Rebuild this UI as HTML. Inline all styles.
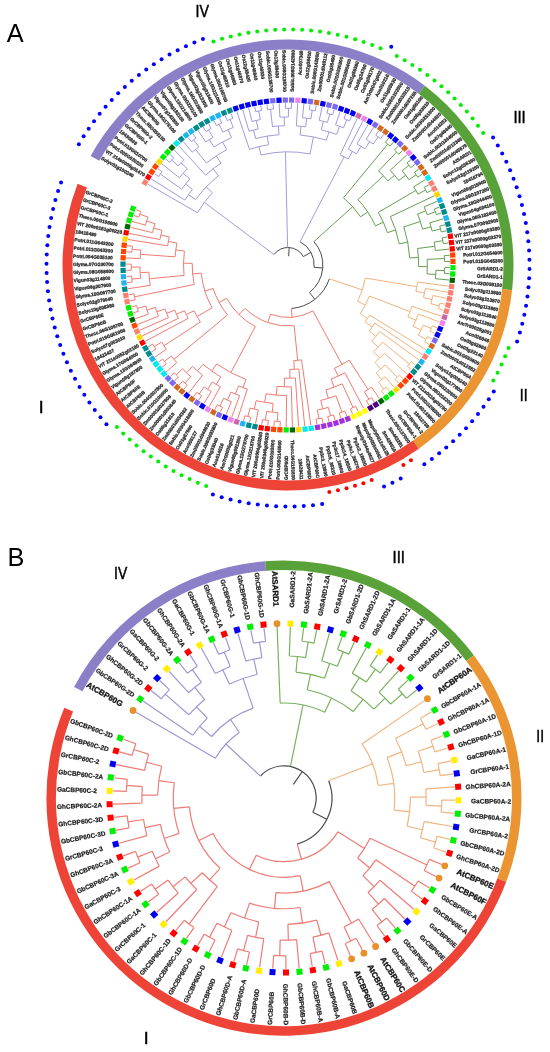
<!DOCTYPE html>
<html><head><meta charset="utf-8"><title>Phylogenetic trees</title>
<style>
html,body{margin:0;padding:0;background:#fff;}
body{width:550px;height:1052px;overflow:hidden;}
svg{display:block;font-family:"Liberation Sans",Arial,sans-serif;}
text{fill:#1a1a1a;}
.la{font-size:4.75px;font-weight:bold;fill:#222;stroke:#333;stroke-width:0.3px;dominant-baseline:central;}
.lb{font-size:6.5px;font-weight:bold;fill:#1a1a1a;stroke:#1a1a1a;stroke-width:0.2px;dominant-baseline:central;}
.lo{font-size:8px;font-weight:bold;fill:#111;stroke:#111;stroke-width:0.3px;dominant-baseline:central;}
.num{font-size:17.4px;fill:#000;stroke:#000;stroke-width:0.5px;}
.big{font-size:25.3px;fill:#000;}
</style></head><body>
<svg width="550" height="1052" viewBox="0 0 550 1052">
<rect width="550" height="1052" fill="#fff"/>
<path d="M90.59 156 A225.5 225.5 0 0 1 424.79 85.73 L418.72 93.68 A215.5 215.5 0 0 0 99.35 160.83 Z" fill="#8b7fc8"/>
<path d="M424.79 85.73 A225.5 225.5 0 0 1 512.09 290.16 L502.15 289.04 A215.5 215.5 0 0 0 418.72 93.68 Z" fill="#59a23a"/>
<path d="M512.09 290.16 A225.5 225.5 0 0 1 418.85 448.65 L413.05 440.51 A215.5 215.5 0 0 0 502.15 289.04 Z" fill="#ea9532"/>
<path d="M418.85 448.65 A225.5 225.5 0 0 1 77.61 183.84 L86.94 187.44 A215.5 215.5 0 0 0 413.05 440.51 Z" fill="#ee4438"/>
<path d="M273.99 254.51A17.5 17.5 0 0 1 303.34 256.57M303.34 256.57L310.96 252.38M300.07 241.75A26.2 26.2 0 0 1 314.1 267.27M314.1 267.27L322.77 268.03M313.92 241.63A34.9 34.9 0 0 1 309.49 292.5M309.49 292.5L314.85 299.35M329.35 278.83A43.6 43.6 0 0 1 291.43 308.46M288.62 256.22L289.23 247.54" fill="none" stroke="#4a4a4a" stroke-width="1.0"/>
<path d="M273.99 254.51L204.36 202.35M197.5 212.75A104.5 104.5 0 0 1 212.41 192.84M197.5 212.75L147.7 184M212.41 192.84L206.12 186.83M195.57 199.65A113.2 113.2 0 0 1 218.43 175.7M195.57 199.65L188.47 194.62M184.83 200.06A121.9 121.9 0 0 1 192.39 189.38M184.83 200.06L150.9 178.7M192.39 189.38L185.56 183.99M181.64 189.22A130.6 130.6 0 0 1 189.75 178.96M181.64 189.22L160.38 174.07M158.67 176.53A156.7 156.7 0 0 1 162.14 171.65M158.67 176.53L154.29 173.53M162.14 171.65L157.88 168.5M189.75 178.96L183.21 173.22M179.36 177.81A139.3 139.3 0 0 1 187.24 168.81M179.36 177.81L161.66 163.6M187.24 168.81L180.95 162.8M178.07 165.91A148 148 0 0 1 183.92 159.78M178.07 165.91L171.61 160.08M169.62 162.32A156.7 156.7 0 0 1 173.63 157.88M169.62 162.32L165.62 158.85M173.63 157.88L169.76 154.26M183.92 159.78L174.08 149.83M218.43 175.7L213.09 168.84M205.65 175.13A121.9 121.9 0 0 1 221 163.16M205.65 175.13L178.55 145.56M221 163.16L216.22 155.89M206.39 163.04A130.6 130.6 0 0 1 226.67 149.7M206.39 163.04L195.52 149.45M192.25 152.15A148 148 0 0 1 198.87 146.85M192.25 152.15L183.19 141.47M198.87 146.85L193.63 139.91M191.26 141.73A156.7 156.7 0 0 1 196.03 138.13M191.26 141.73L187.98 137.56M196.03 138.13L192.92 133.84M226.67 149.7L222.59 142.01M213.96 147.01A139.3 139.3 0 0 1 231.55 137.65M213.96 147.01L209.33 139.64M205.78 141.94A148 148 0 0 1 212.95 137.44M205.78 141.94L198 130.3M212.95 137.44L208.54 129.94M205.98 131.48A156.7 156.7 0 0 1 211.13 128.45M205.98 131.48L203.2 126.96M211.13 128.45L208.54 123.83M231.55 137.65L228.02 129.7M222.9 132.08A148 148 0 0 1 233.23 127.51M222.9 132.08L219.08 124.27M216.4 125.61A156.7 156.7 0 0 1 221.78 122.98M216.4 125.61L213.98 120.9M221.78 122.98L219.54 118.18M233.23 127.51L230.01 119.42M227.24 120.56A156.7 156.7 0 0 1 232.8 118.34M227.24 120.56L225.19 115.67M232.8 118.34L230.94 113.38M287.61 247.5L285.47 151.83M261.02 155.06A113.2 113.2 0 0 1 310.05 153.97M261.02 155.06L258.95 146.61M249.45 149.36A121.9 121.9 0 0 1 268.64 144.65M249.45 149.36L236.76 111.32M268.64 144.65L267.25 136.06M255.66 138.47A130.6 130.6 0 0 1 279.01 134.71M255.66 138.47L253.51 130.04M249.02 131.27A139.3 139.3 0 0 1 258.04 128.96M249.02 131.27L242.67 109.47M258.04 128.96L256.16 120.46M252.04 121.44A148 148 0 0 1 260.32 119.61M252.04 121.44L248.64 107.85M260.32 119.61L258.69 111.07M255.75 111.65A156.7 156.7 0 0 1 261.63 110.53M255.75 111.65L254.66 106.47M261.63 110.53L260.74 105.31M279.01 134.71L278.42 126.03M272.46 126.57A139.3 139.3 0 0 1 284.39 125.75M272.46 126.57L270.52 109.28M267.55 109.64A156.7 156.7 0 0 1 273.49 108.97M267.55 109.64L266.85 104.39M273.49 108.97L273 103.7M284.39 125.75L284.17 117.05M279.93 117.22A148 148 0 0 1 288.4 117M279.93 117.22L279.17 103.24M288.4 117L288.43 108.3M285.44 108.32A156.7 156.7 0 0 1 291.42 108.34M285.44 108.32L285.35 103.02M291.42 108.34L291.53 103.04M310.05 153.97L313.44 136.9M300.18 134.97A130.6 130.6 0 0 1 326.42 140.18M300.18 134.97L300.99 126.31M296.35 125.95A139.3 139.3 0 0 1 305.62 126.82M296.35 125.95L297.71 103.29M305.62 126.82L306.72 118.19M302.51 117.71A148 148 0 0 1 310.91 118.78M302.51 117.71L303.88 103.78M310.91 118.78L312.26 110.19M309.3 109.75A156.7 156.7 0 0 1 315.21 110.68M309.3 109.75L310.02 104.5M315.21 110.68L316.13 105.46M326.42 140.18L328.98 131.86M321.29 129.74A139.3 139.3 0 0 1 336.53 134.43M321.29 129.74L323.37 121.29M319.24 120.34A148 148 0 0 1 327.47 122.36M319.24 120.34L322.2 106.65M327.47 122.36L329.79 113.98M326.9 113.21A156.7 156.7 0 0 1 332.67 114.8M326.9 113.21L328.22 108.07M332.67 114.8L334.18 109.72M336.53 134.43L339.57 126.27M335.57 124.85A148 148 0 0 1 343.52 127.81M335.57 124.85L340.07 111.6M343.52 127.81L346.78 119.74M344 118.65A156.7 156.7 0 0 1 349.54 120.89M344 118.65L345.89 113.7M349.54 120.89L351.62 116.02M300.07 241.75L344.16 156.81M340.12 154.8A121.9 121.9 0 0 1 348.12 158.96M340.12 154.8L357.26 118.55M348.12 158.96L352.41 151.39M348.3 149.16A130.6 130.6 0 0 1 356.44 153.77M348.3 149.16L362.8 121.3M356.44 153.77L360.99 146.36M356.99 143.98A139.3 139.3 0 0 1 364.92 148.86M356.99 143.98L368.23 124.26M364.92 148.86L369.72 141.61M366.15 139.32A148 148 0 0 1 373.22 144M366.15 139.32L373.55 127.43M373.22 144L378.23 136.88M375.77 135.19A156.7 156.7 0 0 1 380.66 138.63M375.77 135.19L378.74 130.79M380.66 138.63L383.79 134.36" fill="none" stroke="#a09cda" stroke-width="1.0"/>
<path d="M313.92 241.63L352.69 206.67M343.44 197.82A87.1 87.1 0 0 1 360.54 216.79M343.44 197.82L387.74 144.14M385.41 142.26A156.7 156.7 0 0 1 390.03 146.07M385.41 142.26L388.71 138.11M390.03 146.07L393.48 142.04M360.54 216.79L367.78 211.97M357.97 199.56A95.8 95.8 0 0 1 375.43 225.83M357.97 199.56L383.38 175.79M378.57 170.91A130.6 130.6 0 0 1 387.93 180.92M378.57 170.91L396.67 152.1M394.49 150.05A156.7 156.7 0 0 1 398.8 154.2M394.49 150.05L398.1 146.16M398.8 154.2L402.55 150.45M387.93 180.92L394.59 175.31M390.19 170.33A139.3 139.3 0 0 1 398.74 180.5M390.19 170.33L406.84 154.9M398.74 180.5L405.66 175.22M402.15 170.8A148 148 0 0 1 409 179.78M402.15 170.8L408.86 165.26M406.93 162.97A156.7 156.7 0 0 1 410.74 167.59M406.93 162.97L410.96 159.52M410.74 167.59L414.89 164.29M409 179.78L416.12 174.77M414.37 172.34A156.7 156.7 0 0 1 417.81 177.23M414.37 172.34L418.64 169.21M417.81 177.23L422.21 174.26M375.43 225.83L383.37 222.27M378.29 212.38A104.5 104.5 0 0 1 387.37 232.65M378.29 212.38L415.87 190.48M413.68 186.85A148 148 0 0 1 417.95 194.17M413.68 186.85L425.57 179.45M417.95 194.17L425.59 190M424.13 187.39A156.7 156.7 0 0 1 426.99 192.64M424.13 187.39L428.74 184.77M426.99 192.64L431.7 190.2M387.37 232.65L395.64 229.96M390.33 216.6A113.2 113.2 0 0 1 399.21 243.88M390.33 216.6L434.45 195.74M399.21 243.88L407.76 242.26M403.8 226.92A121.9 121.9 0 0 1 409.7 257.98M403.8 226.92L420.33 221.48M417.62 213.98A139.3 139.3 0 0 1 422.6 229.13M417.62 213.98L425.72 210.8M424.11 206.87A148 148 0 0 1 427.21 214.76M424.11 206.87L436.98 201.38M427.21 214.76L435.4 211.81M434.35 209A156.7 156.7 0 0 1 436.38 214.63M434.35 209L439.3 207.11M436.38 214.63L441.4 212.93M422.6 229.13L431.01 226.89M429.86 222.81A148 148 0 0 1 432.04 231M429.86 222.81L443.28 218.82M432.04 231L440.51 229M439.79 226.1A156.7 156.7 0 0 1 441.17 231.92M439.79 226.1L444.93 224.78M441.17 231.92L446.35 230.8M409.7 257.98L418.38 257.48M417.55 248.48A130.6 130.6 0 0 1 418.59 266.51M417.55 248.48L434.81 246.28M434.22 242.09A148 148 0 0 1 435.29 250.49M434.22 242.09L442.81 240.74M442.32 237.79A156.7 156.7 0 0 1 443.25 243.7M442.32 237.79L447.54 236.87M443.25 243.7L448.5 242.98M435.29 250.49L449.22 249.12M418.59 266.51L427.29 266.61M427.18 259.3A139.3 139.3 0 0 1 427.01 273.92M427.18 259.3L444.57 258.59M444.42 255.6A156.7 156.7 0 0 1 444.66 261.58M444.42 255.6L449.71 255.29M444.66 261.58L449.96 261.47M427.01 273.92L435.7 274.48M435.91 270.25A148 148 0 0 1 435.36 278.7M435.91 270.25L444.6 270.55M444.68 267.56A156.7 156.7 0 0 1 444.47 273.54M444.68 267.56L449.98 267.65M444.47 273.54L449.76 273.83M435.36 278.7L449.3 280" fill="none" stroke="#669f50" stroke-width="1.0"/>
<path d="M329.35 278.83L362.35 289.88M365.31 278.01A78.4 78.4 0 0 1 357.57 301.14M365.31 278.01L416.79 286.67M417.48 282.05A130.6 130.6 0 0 1 415.93 291.26M417.48 282.05L448.61 286.15M415.93 291.26L424.45 293.01M425.31 288.44A139.3 139.3 0 0 1 423.44 297.56M425.31 288.44L447.69 292.26M423.44 297.56L431.9 299.59M432.83 295.46A148 148 0 0 1 430.85 303.69M432.83 295.46L446.53 298.34M430.85 303.69L439.25 305.97M440 303.07A156.7 156.7 0 0 1 438.44 308.85M440 303.07L445.15 304.36M438.44 308.85L443.53 310.33M357.57 301.14L365.3 305.15M369.37 296.07A87.1 87.1 0 0 1 360.21 313.7M369.37 296.07L410.01 311.59M411.9 306.3A130.6 130.6 0 0 1 407.9 316.78M411.9 306.3L441.68 316.24M407.9 316.78L415.88 320.23M418.37 314.07A139.3 139.3 0 0 1 413.1 326.27M418.37 314.07L439.62 322.06M413.1 326.27L420.92 330.1M423.3 324.98A148 148 0 0 1 418.33 335.12M423.3 324.98L431.26 328.5M432.44 325.76A156.7 156.7 0 0 1 430.02 331.22M432.44 325.76L437.33 327.81M430.02 331.22L434.82 333.46M418.33 335.12L426 339.24M427.39 336.6A156.7 156.7 0 0 1 424.55 341.87M427.39 336.6L432.1 339.02M424.55 341.87L429.17 344.46M360.21 313.7L367.42 318.57M369.63 315.14A95.8 95.8 0 0 1 365.08 321.89M369.63 315.14L426.04 349.8M365.08 321.89L372.08 327.06M374.89 323.06A104.5 104.5 0 0 1 369.08 330.93M374.89 323.06L422.7 355M369.08 330.93L375.83 336.42M379.65 331.44A113.2 113.2 0 0 1 371.73 341.18M379.65 331.44L419.16 360.08M371.73 341.18L378.17 347.03M382.44 342.08A121.9 121.9 0 0 1 373.64 351.75M382.44 342.08L409.4 364.08M411.27 361.74A156.7 156.7 0 0 1 407.49 366.38M411.27 361.74L415.44 365.02M407.49 366.38L411.53 369.81M373.64 351.75L379.75 357.94M384.29 353.23A130.6 130.6 0 0 1 374.98 362.42M384.29 353.23L407.44 374.45M374.98 362.42L380.77 368.91M385.15 364.83A139.3 139.3 0 0 1 376.22 372.8M385.15 364.83L397.28 377.3M399.41 375.2A156.7 156.7 0 0 1 395.12 379.37M399.41 375.2L403.17 378.92M395.12 379.37L398.74 383.24M376.22 372.8L381.73 379.53M384.97 376.8A148 148 0 0 1 378.42 382.17M384.97 376.8L394.15 387.38M378.42 382.17L383.73 389.06M386.08 387.21A156.7 156.7 0 0 1 381.35 390.86M386.08 387.21L389.4 391.34M381.35 390.86L384.5 395.12" fill="none" stroke="#f3b37c" stroke-width="1.0"/>
<path d="M291.43 308.46L292.12 317.14M312.95 310.96A52.3 52.3 0 0 1 270.57 314.31M312.95 310.96L342.01 364.49M349.21 360.22A113.2 113.2 0 0 1 334.51 368.21M349.21 360.22L368.03 389.5M371.56 387.15A148 148 0 0 1 364.43 391.74M371.56 387.15L379.47 398.71M364.43 391.74L368.93 399.19M371.47 397.62A156.7 156.7 0 0 1 366.35 400.71M371.47 397.62L374.3 402.1M366.35 400.71L369 405.3M334.51 368.21L338.08 376.14M344.88 372.82A121.9 121.9 0 0 1 331.09 379.03M344.88 372.82L363.59 408.29M331.09 379.03L334.17 387.17M342.22 383.81A130.6 130.6 0 0 1 325.91 389.98M342.22 383.81L353.06 407.56M355.77 406.29A156.7 156.7 0 0 1 350.33 408.77M355.77 406.29L358.06 411.07M350.33 408.77L352.44 413.63M325.91 389.98L328.44 398.3M336 395.77A139.3 139.3 0 0 1 320.74 400.4M336 395.77L342 412.1M344.79 411.05A156.7 156.7 0 0 1 339.18 413.11M344.79 411.05L346.71 415.99M339.18 413.11L340.91 418.12M320.74 400.4L322.79 408.85M328.25 407.42A148 148 0 0 1 317.27 410.08M328.25 407.42L330.62 415.79M333.49 414.95A156.7 156.7 0 0 1 327.73 416.58M333.49 414.95L335.03 420.02M327.73 416.58L329.07 421.71M317.27 410.08L318.99 418.61M321.92 417.99A156.7 156.7 0 0 1 316.05 419.17M321.92 417.99L323.06 423.16M316.05 419.17L317 424.38M270.57 314.31L267.67 322.51M294.16 325.69A61 61 0 0 1 245.08 308.34M294.16 325.69L297.67 360.31M301.54 359.84A95.8 95.8 0 0 1 293.78 360.63M301.54 359.84L310.9 425.37M293.78 360.63L294.31 369.31M298.81 368.94A104.5 104.5 0 0 1 289.79 369.48M298.81 368.94L304.76 426.13M289.79 369.48L289.94 378.18M295.4 377.96A113.2 113.2 0 0 1 284.47 378.14M295.4 377.96L298.6 426.65M284.47 378.14L284.2 386.84M291.32 386.85A121.9 121.9 0 0 1 277.09 386.41M291.32 386.85L292.42 426.94M277.09 386.41L276.31 395.08M286.58 395.59A130.6 130.6 0 0 1 266.11 393.75M286.58 395.59L286.23 426.99M266.11 393.75L264.65 402.33M273.21 403.51A139.3 139.3 0 0 1 256.18 400.62M273.21 403.51L272.29 412.16M277.92 412.66A148 148 0 0 1 266.68 411.46M277.92 412.66L277.32 421.34M280.31 421.51A156.7 156.7 0 0 1 274.34 421.1M280.31 421.51L280.05 426.8M274.34 421.1L273.88 426.38M266.68 411.46L265.43 420.07M268.39 420.47A156.7 156.7 0 0 1 262.47 419.61M268.39 420.47L267.73 425.73M262.47 419.61L261.61 424.84M256.18 400.62L254.2 409.09M258.34 410A148 148 0 0 1 250.08 408.06M258.34 410L255.53 423.71M250.08 408.06L247.86 416.47M250.75 417.21A156.7 156.7 0 0 1 244.97 415.68M250.75 417.21L249.49 422.36M244.97 415.68L243.52 420.77M245.08 308.34L238.95 314.52M255.31 326.56A69.7 69.7 0 0 1 226.76 298.28M255.31 326.56L230.83 372.66M245.96 379.42A121.9 121.9 0 0 1 216.76 363.92M245.96 379.42L242.96 387.59M247.37 389.12A130.6 130.6 0 0 1 238.6 385.9M247.37 389.12L237.6 418.96M238.6 385.9L235.31 393.95M239.64 395.64A139.3 139.3 0 0 1 231.03 392.12M239.64 395.64L231.76 416.93M231.03 392.12L227.47 400.06M231.36 401.73A148 148 0 0 1 223.63 398.27M231.36 401.73L226.01 414.67M223.63 398.27L219.85 406.1M222.55 407.38A156.7 156.7 0 0 1 217.16 404.78M222.55 407.38L220.34 412.19M217.16 404.78L214.77 409.5M216.76 363.92L211.68 370.98M220.78 376.97A130.6 130.6 0 0 1 203.1 364.24M220.78 376.97L216.3 384.43M220.33 386.76A139.3 139.3 0 0 1 212.35 381.97M220.33 386.76L209.31 406.6M212.35 381.97L207.63 389.28M211.22 391.53A148 148 0 0 1 204.11 386.92M211.22 391.53L203.96 403.5M204.11 386.92L199.17 394.09M201.65 395.76A156.7 156.7 0 0 1 196.73 392.37M201.65 395.76L198.73 400.19M196.73 392.37L193.64 396.68M203.1 364.24L197.45 370.85M202.6 375.05A139.3 139.3 0 0 1 192.5 366.41M202.6 375.05L188.68 392.98M192.5 366.41L186.53 372.74M190.72 376.54A148 148 0 0 1 182.5 368.79M190.72 376.54L185 383.09M187.28 385.04A156.7 156.7 0 0 1 182.77 381.11M187.28 385.04L183.87 389.1M182.77 381.11L179.21 385.03M182.5 368.79L176.29 374.89M178.41 377.01A156.7 156.7 0 0 1 174.22 372.74M178.41 377.01L174.71 380.79M174.22 372.74L170.37 376.39M226.76 298.28L219.12 302.44M227.6 314.98A78.4 78.4 0 0 1 213.2 288.5M227.6 314.98L173.98 359.36M176.73 362.58A148 148 0 0 1 171.32 356.05M176.73 362.58L166.2 371.81M171.32 356.05L164.47 361.41M166.33 363.75A156.7 156.7 0 0 1 162.65 359.03M166.33 363.75L162.21 367.09M162.65 359.03L158.41 362.21M213.2 288.5L204.9 291.1M212.2 307.9A87.1 87.1 0 0 1 201.28 273.15M212.2 307.9L197.06 316.47M200.41 321.99A104.5 104.5 0 0 1 194.05 310.76M200.41 321.99L163.94 345.71M166.3 349.23A148 148 0 0 1 161.68 342.12M166.3 349.23L154.79 357.19M161.68 342.12L154.26 346.66M155.84 349.19A156.7 156.7 0 0 1 152.72 344.09M155.84 349.19L151.37 352.04M152.72 344.09L148.15 346.76M194.05 310.76L186.23 314.57M188.17 318.36A113.2 113.2 0 0 1 184.44 310.71M188.17 318.36L145.13 341.37M184.44 310.71L176.48 314.23M178.38 318.32A121.9 121.9 0 0 1 174.74 310.07M178.38 318.32L142.32 335.86M174.74 310.07L166.65 313.29M168.46 317.6A130.6 130.6 0 0 1 165 308.91M168.46 317.6L139.72 330.24M165 308.91L156.81 311.84M158.45 316.19A139.3 139.3 0 0 1 155.32 307.43M158.45 316.19L137.34 324.54M155.32 307.43L147.03 310.08M148.38 314.1A148 148 0 0 1 145.8 306.03M148.38 314.1L135.17 318.74M145.8 306.03L137.44 308.44M138.3 311.3A156.7 156.7 0 0 1 136.64 305.56M138.3 311.3L133.23 312.87M136.64 305.56L131.52 306.93M201.28 273.15L192.62 273.97M194.2 284.46A95.8 95.8 0 0 1 192.21 263.36M194.2 284.46L134.57 296.83M135.2 299.75A156.7 156.7 0 0 1 133.99 293.89M135.2 299.75L130.03 300.93M133.99 293.89L128.78 294.87M192.21 263.36L183.52 263.21M184.02 275.38A104.5 104.5 0 0 1 184.43 251.07M184.02 275.38L149.39 278.84M150.21 285.44A139.3 139.3 0 0 1 148.89 272.21M150.21 285.44L127.75 288.77M148.89 272.21L140.2 272.67M140.6 278.3A148 148 0 0 1 140.01 267.02M140.6 278.3L131.93 279.08M132.23 282.06A156.7 156.7 0 0 1 131.69 276.1M132.23 282.06L126.96 282.64M131.69 276.1L126.41 276.48M140.01 267.02L131.31 267.14M131.38 270.13A156.7 156.7 0 0 1 131.3 264.15M131.38 270.13L126.09 270.3M131.3 264.15L126 264.12M184.43 251.07L175.81 249.91M175.1 256.83A113.2 113.2 0 0 1 176.95 243.05M175.1 256.83L140.39 254.31M140.14 258.54A148 148 0 0 1 140.75 250.09M140.14 258.54L126.15 257.93M140.75 250.09L132.1 249.22M131.82 252.19A156.7 156.7 0 0 1 132.43 246.24M131.82 252.19L126.54 251.76M132.43 246.24L127.16 245.61M176.95 243.05L168.41 241.36M167.62 245.8A121.9 121.9 0 0 1 169.37 236.96M167.62 245.8L128.02 239.48M169.37 236.96L160.9 234.95M159.91 239.52A130.6 130.6 0 0 1 162.06 230.42M159.91 239.52L129.11 233.4M162.06 230.42L153.67 228.12M152.51 232.63A139.3 139.3 0 0 1 154.98 223.66M152.51 232.63L130.43 227.35M154.98 223.66L146.67 221.07M145.47 225.14A148 148 0 0 1 147.98 217.04M145.47 225.14L131.99 221.37M147.98 217.04L139.75 214.23M138.81 217.06A156.7 156.7 0 0 1 140.75 211.41M138.81 217.06L133.77 215.44M140.75 211.41L135.77 209.59" fill="none" stroke="#ef7c72" stroke-width="1.0"/>
<rect x="142.51" y="179.9" width="5.2" height="5.2" fill="#fa8072" transform="rotate(210 145.11 182.5)"/>
<rect x="145.76" y="174.51" width="5.2" height="5.2" fill="#ff0000" transform="rotate(212.19 148.36 177.11)"/>
<rect x="149.22" y="169.24" width="5.2" height="5.2" fill="#ff4500" transform="rotate(214.38 151.82 171.84)"/>
<rect x="152.87" y="164.11" width="5.2" height="5.2" fill="#ff4500" transform="rotate(216.56 155.47 166.71)"/>
<rect x="156.72" y="159.12" width="5.2" height="5.2" fill="#ffd700" transform="rotate(218.75 159.32 161.72)"/>
<rect x="160.75" y="154.29" width="5.2" height="5.2" fill="#00ee00" transform="rotate(220.94 163.35 156.89)"/>
<rect x="164.97" y="149.61" width="5.2" height="5.2" fill="#00ee00" transform="rotate(223.12 167.57 152.21)"/>
<rect x="169.37" y="145.09" width="5.2" height="5.2" fill="#006400" transform="rotate(225.31 171.97 147.69)"/>
<rect x="173.93" y="140.75" width="5.2" height="5.2" fill="#00eaf0" transform="rotate(227.5 176.53 143.35)"/>
<rect x="178.65" y="136.58" width="5.2" height="5.2" fill="#008b8b" transform="rotate(229.69 181.25 139.18)"/>
<rect x="183.53" y="132.6" width="5.2" height="5.2" fill="#1eb4f0" transform="rotate(231.88 186.13 135.2)"/>
<rect x="188.56" y="128.81" width="5.2" height="5.2" fill="#1eb4f0" transform="rotate(234.06 191.16 131.41)"/>
<rect x="193.73" y="125.21" width="5.2" height="5.2" fill="#008b8b" transform="rotate(236.25 196.33 127.81)"/>
<rect x="199.03" y="121.81" width="5.2" height="5.2" fill="#008b8b" transform="rotate(238.44 201.63 124.41)"/>
<rect x="204.46" y="118.61" width="5.2" height="5.2" fill="#008b8b" transform="rotate(240.62 207.06 121.21)"/>
<rect x="210.01" y="115.63" width="5.2" height="5.2" fill="#1eb4f0" transform="rotate(242.81 212.61 118.23)"/>
<rect x="215.67" y="112.86" width="5.2" height="5.2" fill="#1eb4f0" transform="rotate(245 218.27 115.46)"/>
<rect x="221.43" y="110.31" width="5.2" height="5.2" fill="#008b8b" transform="rotate(247.19 224.03 112.91)"/>
<rect x="227.28" y="107.98" width="5.2" height="5.2" fill="#008b8b" transform="rotate(249.38 229.88 110.58)"/>
<rect x="233.22" y="105.87" width="5.2" height="5.2" fill="#0000ee" transform="rotate(251.56 235.82 108.47)"/>
<rect x="239.23" y="103.99" width="5.2" height="5.2" fill="#0000ee" transform="rotate(253.75 241.83 106.59)"/>
<rect x="245.31" y="102.34" width="5.2" height="5.2" fill="#0000ee" transform="rotate(255.94 247.91 104.94)"/>
<rect x="251.45" y="100.93" width="5.2" height="5.2" fill="#0000ee" transform="rotate(258.12 254.05 103.53)"/>
<rect x="257.63" y="99.75" width="5.2" height="5.2" fill="#0000ee" transform="rotate(260.31 260.23 102.35)"/>
<rect x="263.86" y="98.81" width="5.2" height="5.2" fill="#0000ee" transform="rotate(262.5 266.46 101.41)"/>
<rect x="270.12" y="98.11" width="5.2" height="5.2" fill="#7b68ee" transform="rotate(264.69 272.72 100.71)"/>
<rect x="276.41" y="97.65" width="5.2" height="5.2" fill="#0000ee" transform="rotate(266.88 279.01 100.25)"/>
<rect x="282.7" y="97.42" width="5.2" height="5.2" fill="#7b68ee" transform="rotate(269.06 285.3 100.02)"/>
<rect x="289" y="97.44" width="5.2" height="5.2" fill="#7b68ee" transform="rotate(271.25 291.6 100.04)"/>
<rect x="295.29" y="97.7" width="5.2" height="5.2" fill="#ee82ee" transform="rotate(273.44 297.89 100.3)"/>
<rect x="301.57" y="98.19" width="5.2" height="5.2" fill="#0000ee" transform="rotate(275.62 304.17 100.79)"/>
<rect x="307.83" y="98.93" width="5.2" height="5.2" fill="#7b68ee" transform="rotate(277.81 310.43 101.53)"/>
<rect x="314.05" y="99.91" width="5.2" height="5.2" fill="#d2691e" transform="rotate(280 316.65 102.51)"/>
<rect x="320.23" y="101.12" width="5.2" height="5.2" fill="#0000ee" transform="rotate(282.19 322.83 103.72)"/>
<rect x="326.36" y="102.57" width="5.2" height="5.2" fill="#7b68ee" transform="rotate(284.38 328.96 105.17)"/>
<rect x="332.44" y="104.25" width="5.2" height="5.2" fill="#7b68ee" transform="rotate(286.56 335.04 106.85)"/>
<rect x="338.44" y="106.16" width="5.2" height="5.2" fill="#0000ee" transform="rotate(288.75 341.04 108.76)"/>
<rect x="344.36" y="108.29" width="5.2" height="5.2" fill="#0000ee" transform="rotate(290.94 346.96 110.89)"/>
<rect x="350.2" y="110.66" width="5.2" height="5.2" fill="#0000ee" transform="rotate(293.12 352.8 113.26)"/>
<rect x="355.95" y="113.24" width="5.2" height="5.2" fill="#cc66aa" transform="rotate(295.31 358.55 115.84)"/>
<rect x="361.59" y="116.04" width="5.2" height="5.2" fill="#ee82ee" transform="rotate(297.5 364.19 118.64)"/>
<rect x="367.12" y="119.06" width="5.2" height="5.2" fill="#0000ee" transform="rotate(299.69 369.72 121.66)"/>
<rect x="372.53" y="122.28" width="5.2" height="5.2" fill="#7b68ee" transform="rotate(301.88 375.13 124.88)"/>
<rect x="377.82" y="125.71" width="5.2" height="5.2" fill="#d2691e" transform="rotate(304.06 380.42 128.31)"/>
<rect x="382.97" y="129.34" width="5.2" height="5.2" fill="#d2691e" transform="rotate(306.25 385.57 131.94)"/>
<rect x="387.97" y="133.16" width="5.2" height="5.2" fill="#0000ee" transform="rotate(308.44 390.57 135.76)"/>
<rect x="392.83" y="137.17" width="5.2" height="5.2" fill="#0000ee" transform="rotate(310.62 395.43 139.77)"/>
<rect x="397.53" y="141.36" width="5.2" height="5.2" fill="#7b68ee" transform="rotate(312.81 400.13 143.96)"/>
<rect x="402.07" y="145.73" width="5.2" height="5.2" fill="#d2691e" transform="rotate(315 404.67 148.33)"/>
<rect x="406.44" y="150.27" width="5.2" height="5.2" fill="#ee82ee" transform="rotate(317.19 409.04 152.87)"/>
<rect x="410.63" y="154.97" width="5.2" height="5.2" fill="#0000ee" transform="rotate(319.38 413.23 157.57)"/>
<rect x="414.64" y="159.83" width="5.2" height="5.2" fill="#7b68ee" transform="rotate(321.56 417.24 162.43)"/>
<rect x="418.46" y="164.83" width="5.2" height="5.2" fill="#d2691e" transform="rotate(323.75 421.06 167.43)"/>
<rect x="422.09" y="169.98" width="5.2" height="5.2" fill="#d2691e" transform="rotate(325.94 424.69 172.58)"/>
<rect x="425.52" y="175.27" width="5.2" height="5.2" fill="#00eaf0" transform="rotate(328.12 428.12 177.87)"/>
<rect x="428.74" y="180.68" width="5.2" height="5.2" fill="#fa8072" transform="rotate(330.31 431.34 183.28)"/>
<rect x="431.76" y="186.21" width="5.2" height="5.2" fill="#fa8072" transform="rotate(332.5 434.36 188.81)"/>
<rect x="434.56" y="191.85" width="5.2" height="5.2" fill="#ffd700" transform="rotate(334.69 437.16 194.45)"/>
<rect x="437.14" y="197.6" width="5.2" height="5.2" fill="#1eb4f0" transform="rotate(336.88 439.74 200.2)"/>
<rect x="439.51" y="203.44" width="5.2" height="5.2" fill="#008b8b" transform="rotate(339.06 442.11 206.04)"/>
<rect x="441.64" y="209.36" width="5.2" height="5.2" fill="#008b8b" transform="rotate(341.25 444.24 211.96)"/>
<rect x="443.55" y="215.36" width="5.2" height="5.2" fill="#1eb4f0" transform="rotate(343.44 446.15 217.96)"/>
<rect x="445.23" y="221.44" width="5.2" height="5.2" fill="#008b8b" transform="rotate(345.62 447.83 224.04)"/>
<rect x="446.68" y="227.57" width="5.2" height="5.2" fill="#008b8b" transform="rotate(347.81 449.28 230.17)"/>
<rect x="447.89" y="233.75" width="5.2" height="5.2" fill="#ff0000" transform="rotate(350 450.49 236.35)"/>
<rect x="448.87" y="239.97" width="5.2" height="5.2" fill="#ff0000" transform="rotate(352.19 451.47 242.57)"/>
<rect x="449.61" y="246.23" width="5.2" height="5.2" fill="#ff0000" transform="rotate(354.38 452.21 248.83)"/>
<rect x="450.1" y="252.51" width="5.2" height="5.2" fill="#ff4500" transform="rotate(356.56 452.7 255.11)"/>
<rect x="450.36" y="258.8" width="5.2" height="5.2" fill="#ff4500" transform="rotate(358.75 452.96 261.4)"/>
<rect x="450.38" y="265.1" width="5.2" height="5.2" fill="#00ee00" transform="rotate(0.94 452.98 267.7)"/>
<rect x="450.15" y="271.39" width="5.2" height="5.2" fill="#00ee00" transform="rotate(3.12 452.75 273.99)"/>
<rect x="449.69" y="277.68" width="5.2" height="5.2" fill="#006400" transform="rotate(5.31 452.29 280.28)"/>
<rect x="448.99" y="283.94" width="5.2" height="5.2" fill="#fa8072" transform="rotate(7.5 451.59 286.54)"/>
<rect x="448.05" y="290.17" width="5.2" height="5.2" fill="#fa8072" transform="rotate(9.69 450.65 292.77)"/>
<rect x="446.87" y="296.35" width="5.2" height="5.2" fill="#fa8072" transform="rotate(11.88 449.47 298.95)"/>
<rect x="445.46" y="302.49" width="5.2" height="5.2" fill="#fa8072" transform="rotate(14.06 448.06 305.09)"/>
<rect x="443.81" y="308.57" width="5.2" height="5.2" fill="#fa8072" transform="rotate(16.25 446.41 311.17)"/>
<rect x="441.93" y="314.58" width="5.2" height="5.2" fill="#cc66aa" transform="rotate(18.44 444.53 317.18)"/>
<rect x="439.82" y="320.52" width="5.2" height="5.2" fill="#ee82ee" transform="rotate(20.62 442.42 323.12)"/>
<rect x="437.49" y="326.37" width="5.2" height="5.2" fill="#0000ee" transform="rotate(22.81 440.09 328.97)"/>
<rect x="434.94" y="332.13" width="5.2" height="5.2" fill="#0000ee" transform="rotate(25 437.54 334.73)"/>
<rect x="432.17" y="337.79" width="5.2" height="5.2" fill="#7b68ee" transform="rotate(27.19 434.77 340.39)"/>
<rect x="429.19" y="343.34" width="5.2" height="5.2" fill="#d2691e" transform="rotate(29.38 431.79 345.94)"/>
<rect x="425.99" y="348.77" width="5.2" height="5.2" fill="#00eaf0" transform="rotate(31.56 428.59 351.37)"/>
<rect x="422.59" y="354.07" width="5.2" height="5.2" fill="#fa8072" transform="rotate(33.75 425.19 356.67)"/>
<rect x="418.99" y="359.24" width="5.2" height="5.2" fill="#1eb4f0" transform="rotate(35.94 421.59 361.84)"/>
<rect x="415.2" y="364.27" width="5.2" height="5.2" fill="#008b8b" transform="rotate(38.12 417.8 366.87)"/>
<rect x="411.22" y="369.15" width="5.2" height="5.2" fill="#008b8b" transform="rotate(40.31 413.82 371.75)"/>
<rect x="407.05" y="373.87" width="5.2" height="5.2" fill="#ff0000" transform="rotate(42.5 409.65 376.47)"/>
<rect x="402.71" y="378.43" width="5.2" height="5.2" fill="#ff4500" transform="rotate(44.69 405.31 381.03)"/>
<rect x="398.19" y="382.83" width="5.2" height="5.2" fill="#ff4500" transform="rotate(46.88 400.79 385.43)"/>
<rect x="393.51" y="387.05" width="5.2" height="5.2" fill="#ffd700" transform="rotate(49.06 396.11 389.65)"/>
<rect x="388.68" y="391.08" width="5.2" height="5.2" fill="#00ee00" transform="rotate(51.25 391.28 393.68)"/>
<rect x="383.69" y="394.93" width="5.2" height="5.2" fill="#00ee00" transform="rotate(53.44 386.29 397.53)"/>
<rect x="378.56" y="398.58" width="5.2" height="5.2" fill="#006400" transform="rotate(55.62 381.16 401.18)"/>
<rect x="373.29" y="402.04" width="5.2" height="5.2" fill="#4b0082" transform="rotate(57.81 375.89 404.64)"/>
<rect x="367.9" y="405.29" width="5.2" height="5.2" fill="#4b0082" transform="rotate(60 370.5 407.89)"/>
<rect x="362.39" y="408.34" width="5.2" height="5.2" fill="#ffff00" transform="rotate(62.19 364.99 410.94)"/>
<rect x="356.76" y="411.17" width="5.2" height="5.2" fill="#ffff00" transform="rotate(64.38 359.36 413.77)"/>
<rect x="351.03" y="413.79" width="5.2" height="5.2" fill="#ffff00" transform="rotate(66.56 353.63 416.39)"/>
<rect x="345.2" y="416.18" width="5.2" height="5.2" fill="#a030e0" transform="rotate(68.75 347.8 418.78)"/>
<rect x="339.29" y="418.35" width="5.2" height="5.2" fill="#a030e0" transform="rotate(70.94 341.89 420.95)"/>
<rect x="333.3" y="420.3" width="5.2" height="5.2" fill="#a030e0" transform="rotate(73.12 335.9 422.9)"/>
<rect x="327.24" y="422.01" width="5.2" height="5.2" fill="#a030e0" transform="rotate(75.31 329.84 424.61)"/>
<rect x="321.11" y="423.49" width="5.2" height="5.2" fill="#a030e0" transform="rotate(77.5 323.71 426.09)"/>
<rect x="314.94" y="424.73" width="5.2" height="5.2" fill="#a030e0" transform="rotate(79.69 317.54 427.33)"/>
<rect x="308.72" y="425.74" width="5.2" height="5.2" fill="#00eaf0" transform="rotate(81.88 311.32 428.34)"/>
<rect x="302.47" y="426.51" width="5.2" height="5.2" fill="#00eaf0" transform="rotate(84.06 305.07 429.11)"/>
<rect x="296.19" y="427.05" width="5.2" height="5.2" fill="#ffd700" transform="rotate(86.25 298.79 429.65)"/>
<rect x="289.9" y="427.34" width="5.2" height="5.2" fill="#006400" transform="rotate(88.44 292.5 429.94)"/>
<rect x="283.6" y="427.39" width="5.2" height="5.2" fill="#00ee00" transform="rotate(90.62 286.2 429.99)"/>
<rect x="277.3" y="427.2" width="5.2" height="5.2" fill="#ff4500" transform="rotate(92.81 279.9 429.8)"/>
<rect x="271.02" y="426.77" width="5.2" height="5.2" fill="#ff4500" transform="rotate(95 273.62 429.37)"/>
<rect x="264.76" y="426.1" width="5.2" height="5.2" fill="#ff0000" transform="rotate(97.19 267.36 428.7)"/>
<rect x="258.52" y="425.2" width="5.2" height="5.2" fill="#ff0000" transform="rotate(99.38 261.12 427.8)"/>
<rect x="252.33" y="424.05" width="5.2" height="5.2" fill="#008b8b" transform="rotate(101.56 254.93 426.65)"/>
<rect x="246.18" y="422.67" width="5.2" height="5.2" fill="#008b8b" transform="rotate(103.75 248.78 425.27)"/>
<rect x="240.09" y="421.06" width="5.2" height="5.2" fill="#1eb4f0" transform="rotate(105.94 242.69 423.66)"/>
<rect x="234.07" y="419.21" width="5.2" height="5.2" fill="#cc66aa" transform="rotate(108.12 236.67 421.81)"/>
<rect x="228.12" y="417.14" width="5.2" height="5.2" fill="#ee82ee" transform="rotate(110.31 230.72 419.74)"/>
<rect x="222.26" y="414.84" width="5.2" height="5.2" fill="#0000ee" transform="rotate(112.5 224.86 417.44)"/>
<rect x="216.48" y="412.32" width="5.2" height="5.2" fill="#7b68ee" transform="rotate(114.69 219.08 414.92)"/>
<rect x="210.81" y="409.58" width="5.2" height="5.2" fill="#d2691e" transform="rotate(116.88 213.41 412.18)"/>
<rect x="205.25" y="406.62" width="5.2" height="5.2" fill="#ee82ee" transform="rotate(119.06 207.85 409.22)"/>
<rect x="199.8" y="403.46" width="5.2" height="5.2" fill="#0000ee" transform="rotate(121.25 202.4 406.06)"/>
<rect x="194.48" y="400.09" width="5.2" height="5.2" fill="#7b68ee" transform="rotate(123.44 197.08 402.69)"/>
<rect x="189.29" y="396.52" width="5.2" height="5.2" fill="#d2691e" transform="rotate(125.62 191.89 399.12)"/>
<rect x="184.24" y="392.75" width="5.2" height="5.2" fill="#0000ee" transform="rotate(127.81 186.84 395.35)"/>
<rect x="179.34" y="388.8" width="5.2" height="5.2" fill="#d2691e" transform="rotate(130 181.94 391.4)"/>
<rect x="174.59" y="384.66" width="5.2" height="5.2" fill="#d2691e" transform="rotate(132.19 177.19 387.26)"/>
<rect x="170.01" y="380.34" width="5.2" height="5.2" fill="#7b68ee" transform="rotate(134.38 172.61 382.94)"/>
<rect x="165.59" y="375.85" width="5.2" height="5.2" fill="#7b68ee" transform="rotate(136.56 168.19 378.45)"/>
<rect x="161.35" y="371.19" width="5.2" height="5.2" fill="#00eaf0" transform="rotate(138.75 163.95 373.79)"/>
<rect x="157.28" y="366.38" width="5.2" height="5.2" fill="#00eaf0" transform="rotate(140.94 159.88 368.98)"/>
<rect x="153.41" y="361.41" width="5.2" height="5.2" fill="#00eaf0" transform="rotate(143.12 156.01 364.01)"/>
<rect x="149.73" y="356.3" width="5.2" height="5.2" fill="#1eb4f0" transform="rotate(145.31 152.33 358.9)"/>
<rect x="146.24" y="351.05" width="5.2" height="5.2" fill="#008b8b" transform="rotate(147.5 148.84 353.65)"/>
<rect x="142.96" y="345.68" width="5.2" height="5.2" fill="#008b8b" transform="rotate(149.69 145.56 348.28)"/>
<rect x="139.88" y="340.18" width="5.2" height="5.2" fill="#ff0000" transform="rotate(151.88 142.48 342.78)"/>
<rect x="137.02" y="334.57" width="5.2" height="5.2" fill="#ffd700" transform="rotate(154.06 139.62 337.17)"/>
<rect x="134.37" y="328.85" width="5.2" height="5.2" fill="#fa8072" transform="rotate(156.25 136.97 331.45)"/>
<rect x="131.95" y="323.04" width="5.2" height="5.2" fill="#ff4500" transform="rotate(158.44 134.55 325.64)"/>
<rect x="129.74" y="317.14" width="5.2" height="5.2" fill="#006400" transform="rotate(160.62 132.34 319.74)"/>
<rect x="127.77" y="311.16" width="5.2" height="5.2" fill="#00ee00" transform="rotate(162.81 130.37 313.76)"/>
<rect x="126.02" y="305.11" width="5.2" height="5.2" fill="#00ee00" transform="rotate(165 128.62 307.71)"/>
<rect x="124.51" y="298.99" width="5.2" height="5.2" fill="#fa8072" transform="rotate(167.19 127.11 301.59)"/>
<rect x="123.23" y="292.82" width="5.2" height="5.2" fill="#fa8072" transform="rotate(169.38 125.83 295.42)"/>
<rect x="122.19" y="286.61" width="5.2" height="5.2" fill="#008b8b" transform="rotate(171.56 124.79 289.21)"/>
<rect x="121.38" y="280.36" width="5.2" height="5.2" fill="#1eb4f0" transform="rotate(173.75 123.98 282.96)"/>
<rect x="120.81" y="274.09" width="5.2" height="5.2" fill="#1eb4f0" transform="rotate(175.94 123.41 276.69)"/>
<rect x="120.49" y="267.8" width="5.2" height="5.2" fill="#008b8b" transform="rotate(178.12 123.09 270.4)"/>
<rect x="120.4" y="261.5" width="5.2" height="5.2" fill="#008b8b" transform="rotate(180.31 123 264.1)"/>
<rect x="120.56" y="255.2" width="5.2" height="5.2" fill="#ff4500" transform="rotate(182.5 123.16 257.8)"/>
<rect x="120.95" y="248.92" width="5.2" height="5.2" fill="#ff4500" transform="rotate(184.69 123.55 251.52)"/>
<rect x="121.59" y="242.65" width="5.2" height="5.2" fill="#ff4500" transform="rotate(186.88 124.19 245.25)"/>
<rect x="122.46" y="236.41" width="5.2" height="5.2" fill="#ffd700" transform="rotate(189.06 125.06 239.01)"/>
<rect x="123.57" y="230.21" width="5.2" height="5.2" fill="#ff0000" transform="rotate(191.25 126.17 232.81)"/>
<rect x="124.92" y="224.06" width="5.2" height="5.2" fill="#006400" transform="rotate(193.44 127.52 226.66)"/>
<rect x="126.5" y="217.96" width="5.2" height="5.2" fill="#00ee00" transform="rotate(195.62 129.1 220.56)"/>
<rect x="128.31" y="211.93" width="5.2" height="5.2" fill="#00ee00" transform="rotate(197.81 130.91 214.53)"/>
<rect x="130.35" y="205.97" width="5.2" height="5.2" fill="#00ee00" transform="rotate(200 132.95 208.57)"/>
<circle cx="78.85" cy="144.25" r="2" fill="#0000ff"/>
<circle cx="83.62" cy="136.35" r="2" fill="#0000ff"/>
<circle cx="88.68" cy="128.65" r="2" fill="#0000ff"/>
<circle cx="94.03" cy="121.14" r="2" fill="#0000ff"/>
<circle cx="99.66" cy="113.84" r="2" fill="#0000ff"/>
<circle cx="105.56" cy="106.76" r="2" fill="#0000ff"/>
<circle cx="111.74" cy="99.91" r="2" fill="#0000ff"/>
<circle cx="118.17" cy="93.3" r="2" fill="#0000ff"/>
<circle cx="124.84" cy="86.95" r="2" fill="#0000ff"/>
<circle cx="131.76" cy="80.85" r="2" fill="#0000ff"/>
<circle cx="138.9" cy="75.02" r="2" fill="#0000ff"/>
<circle cx="146.26" cy="69.47" r="2" fill="#0000ff"/>
<circle cx="153.83" cy="64.2" r="2" fill="#0000ff"/>
<circle cx="161.59" cy="59.23" r="2" fill="#0000ff"/>
<circle cx="169.54" cy="54.55" r="2" fill="#0000ff"/>
<circle cx="177.66" cy="50.18" r="2" fill="#0000ff"/>
<circle cx="185.94" cy="46.13" r="2" fill="#0000ff"/>
<circle cx="194.37" cy="42.39" r="2" fill="#0000ff"/>
<circle cx="202.93" cy="38.98" r="2" fill="#0000ff"/>
<circle cx="213.49" cy="41.49" r="2" fill="#00ee00"/>
<circle cx="222.07" cy="38.81" r="2" fill="#00ee00"/>
<circle cx="230.75" cy="36.46" r="2" fill="#00ee00"/>
<circle cx="239.52" cy="34.44" r="2" fill="#00ee00"/>
<circle cx="248.35" cy="32.76" r="2" fill="#00ee00"/>
<circle cx="257.25" cy="31.42" r="2" fill="#00ee00"/>
<circle cx="266.19" cy="30.41" r="2" fill="#00ee00"/>
<circle cx="275.16" cy="29.75" r="2" fill="#00ee00"/>
<circle cx="284.15" cy="29.43" r="2" fill="#00ee00"/>
<circle cx="293.14" cy="29.46" r="2" fill="#00ee00"/>
<circle cx="302.13" cy="29.82" r="2" fill="#00ee00"/>
<circle cx="311.09" cy="30.53" r="2" fill="#00ee00"/>
<circle cx="320.03" cy="31.59" r="2" fill="#00ee00"/>
<circle cx="328.91" cy="32.98" r="2" fill="#00ee00"/>
<circle cx="337.74" cy="34.71" r="2" fill="#00ee00"/>
<circle cx="346.49" cy="36.78" r="2" fill="#00ee00"/>
<circle cx="355.16" cy="39.18" r="2" fill="#00ee00"/>
<circle cx="363.73" cy="41.9" r="2" fill="#00ee00"/>
<circle cx="372.19" cy="44.96" r="2" fill="#00ee00"/>
<circle cx="380.53" cy="48.33" r="2" fill="#00ee00"/>
<circle cx="391.25" cy="46.69" r="2" fill="#0000ff"/>
<circle cx="396.79" cy="56.02" r="2" fill="#00ee00"/>
<circle cx="404.69" cy="60.32" r="2" fill="#00ee00"/>
<circle cx="412.41" cy="64.93" r="2" fill="#00ee00"/>
<circle cx="419.96" cy="69.82" r="2" fill="#00ee00"/>
<circle cx="427.31" cy="75" r="2" fill="#00ee00"/>
<circle cx="434.46" cy="80.46" r="2" fill="#00ee00"/>
<circle cx="441.4" cy="86.18" r="2" fill="#00ee00"/>
<circle cx="448.11" cy="92.17" r="2" fill="#00ee00"/>
<circle cx="454.59" cy="98.41" r="2" fill="#00ee00"/>
<circle cx="460.83" cy="104.89" r="2" fill="#00ee00"/>
<circle cx="466.82" cy="111.6" r="2" fill="#00ee00"/>
<circle cx="472.54" cy="118.54" r="2" fill="#00ee00"/>
<circle cx="478" cy="125.69" r="2" fill="#00ee00"/>
<circle cx="483.18" cy="133.04" r="2" fill="#00ee00"/>
<circle cx="493.08" cy="137.47" r="2" fill="#0000ff"/>
<circle cx="497.8" cy="145.39" r="2" fill="#0000ff"/>
<circle cx="502.21" cy="153.49" r="2" fill="#0000ff"/>
<circle cx="506.31" cy="161.75" r="2" fill="#0000ff"/>
<circle cx="510.1" cy="170.15" r="2" fill="#0000ff"/>
<circle cx="513.55" cy="178.7" r="2" fill="#0000ff"/>
<circle cx="516.68" cy="187.37" r="2" fill="#0000ff"/>
<circle cx="519.48" cy="196.16" r="2" fill="#0000ff"/>
<circle cx="521.94" cy="205.04" r="2" fill="#0000ff"/>
<circle cx="524.06" cy="214.02" r="2" fill="#0000ff"/>
<circle cx="525.83" cy="223.06" r="2" fill="#0000ff"/>
<circle cx="527.26" cy="232.17" r="2" fill="#0000ff"/>
<circle cx="528.34" cy="241.33" r="2" fill="#0000ff"/>
<circle cx="529.07" cy="250.52" r="2" fill="#0000ff"/>
<circle cx="529.44" cy="259.73" r="2" fill="#0000ff"/>
<circle cx="529.47" cy="268.95" r="2" fill="#0000ff"/>
<circle cx="529.14" cy="278.17" r="2" fill="#0000ff"/>
<circle cx="528.46" cy="287.36" r="2" fill="#0000ff"/>
<circle cx="527.43" cy="296.52" r="2" fill="#0000ff"/>
<circle cx="526.06" cy="305.64" r="2" fill="#0000ff"/>
<circle cx="524.33" cy="314.7" r="2" fill="#0000ff"/>
<circle cx="522.26" cy="323.68" r="2" fill="#0000ff"/>
<circle cx="519.85" cy="332.58" r="2" fill="#0000ff"/>
<circle cx="517.1" cy="341.38" r="2" fill="#0000ff"/>
<circle cx="508.5" cy="347.99" r="2" fill="#00ee00"/>
<circle cx="505.17" cy="356.35" r="2" fill="#00ee00"/>
<circle cx="501.53" cy="364.57" r="2" fill="#00ee00"/>
<circle cx="497.57" cy="372.65" r="2" fill="#00ee00"/>
<circle cx="493.31" cy="380.57" r="2" fill="#00ee00"/>
<circle cx="493.77" cy="391.41" r="2" fill="#0000ff"/>
<circle cx="488.8" cy="399.17" r="2" fill="#0000ff"/>
<circle cx="483.53" cy="406.74" r="2" fill="#0000ff"/>
<circle cx="477.98" cy="414.1" r="2" fill="#0000ff"/>
<circle cx="472.15" cy="421.24" r="2" fill="#0000ff"/>
<circle cx="466.05" cy="428.16" r="2" fill="#0000ff"/>
<circle cx="459.7" cy="434.83" r="2" fill="#0000ff"/>
<circle cx="453.09" cy="441.26" r="2" fill="#0000ff"/>
<circle cx="446.24" cy="447.44" r="2" fill="#0000ff"/>
<circle cx="439.16" cy="453.34" r="2" fill="#0000ff"/>
<circle cx="431.86" cy="458.97" r="2" fill="#0000ff"/>
<circle cx="424.35" cy="464.32" r="2" fill="#0000ff"/>
<circle cx="410.95" cy="460.33" r="2" fill="#ff0000"/>
<circle cx="403.4" cy="464.88" r="2" fill="#ff0000"/>
<circle cx="400.68" cy="478.6" r="2" fill="#0000ff"/>
<circle cx="392.44" cy="482.75" r="2" fill="#0000ff"/>
<circle cx="384.06" cy="486.57" r="2" fill="#0000ff"/>
<circle cx="371.65" cy="480.11" r="2" fill="#ff0000"/>
<circle cx="363.38" cy="483.14" r="2" fill="#ff0000"/>
<circle cx="355" cy="485.86" r="2" fill="#ff0000"/>
<circle cx="346.52" cy="488.26" r="2" fill="#ff0000"/>
<circle cx="337.95" cy="490.33" r="2" fill="#ff0000"/>
<circle cx="329.32" cy="492.07" r="2" fill="#ff0000"/>
<circle cx="322.13" cy="504.08" r="2" fill="#0000ff"/>
<circle cx="312.98" cy="505.2" r="2" fill="#0000ff"/>
<circle cx="303.79" cy="505.98" r="2" fill="#0000ff"/>
<circle cx="294.59" cy="506.41" r="2" fill="#0000ff"/>
<circle cx="285.37" cy="506.49" r="2" fill="#0000ff"/>
<circle cx="276.15" cy="506.21" r="2" fill="#0000ff"/>
<circle cx="266.95" cy="505.58" r="2" fill="#0000ff"/>
<circle cx="257.78" cy="504.6" r="2" fill="#0000ff"/>
<circle cx="248.66" cy="503.27" r="2" fill="#0000ff"/>
<circle cx="239.59" cy="501.6" r="2" fill="#0000ff"/>
<circle cx="230.6" cy="499.58" r="2" fill="#0000ff"/>
<circle cx="221.69" cy="497.22" r="2" fill="#0000ff"/>
<circle cx="212.87" cy="494.52" r="2" fill="#0000ff"/>
<circle cx="206.21" cy="485.95" r="2" fill="#00ee00"/>
<circle cx="197.84" cy="482.67" r="2" fill="#00ee00"/>
<circle cx="189.6" cy="479.07" r="2" fill="#00ee00"/>
<circle cx="181.5" cy="475.15" r="2" fill="#00ee00"/>
<circle cx="173.55" cy="470.94" r="2" fill="#00ee00"/>
<circle cx="165.78" cy="466.42" r="2" fill="#00ee00"/>
<circle cx="158.18" cy="461.61" r="2" fill="#00ee00"/>
<circle cx="150.77" cy="456.51" r="2" fill="#00ee00"/>
<circle cx="143.56" cy="451.13" r="2" fill="#00ee00"/>
<circle cx="136.56" cy="445.48" r="2" fill="#00ee00"/>
<circle cx="129.78" cy="439.57" r="2" fill="#00ee00"/>
<circle cx="123.23" cy="433.4" r="2" fill="#00ee00"/>
<circle cx="116.92" cy="426.99" r="2" fill="#00ee00"/>
<circle cx="106.43" cy="424.23" r="2" fill="#0000ff"/>
<circle cx="100.49" cy="417.19" r="2" fill="#0000ff"/>
<circle cx="94.81" cy="409.92" r="2" fill="#0000ff"/>
<circle cx="89.42" cy="402.44" r="2" fill="#0000ff"/>
<circle cx="84.32" cy="394.76" r="2" fill="#0000ff"/>
<circle cx="79.52" cy="386.89" r="2" fill="#0000ff"/>
<circle cx="75.02" cy="378.84" r="2" fill="#0000ff"/>
<circle cx="70.83" cy="370.63" r="2" fill="#0000ff"/>
<circle cx="66.95" cy="362.26" r="2" fill="#0000ff"/>
<circle cx="63.4" cy="353.76" r="2" fill="#0000ff"/>
<circle cx="60.18" cy="345.12" r="2" fill="#0000ff"/>
<circle cx="57.28" cy="336.36" r="2" fill="#0000ff"/>
<circle cx="54.73" cy="327.5" r="2" fill="#0000ff"/>
<circle cx="52.51" cy="318.56" r="2" fill="#0000ff"/>
<circle cx="50.64" cy="309.53" r="2" fill="#0000ff"/>
<circle cx="49.11" cy="300.44" r="2" fill="#0000ff"/>
<circle cx="47.94" cy="291.29" r="2" fill="#0000ff"/>
<circle cx="47.11" cy="282.11" r="2" fill="#0000ff"/>
<circle cx="46.63" cy="272.9" r="2" fill="#0000ff"/>
<circle cx="46.5" cy="263.68" r="2" fill="#0000ff"/>
<circle cx="46.73" cy="254.47" r="2" fill="#0000ff"/>
<circle cx="47.31" cy="245.26" r="2" fill="#0000ff"/>
<circle cx="48.24" cy="236.09" r="2" fill="#0000ff"/>
<circle cx="49.51" cy="226.96" r="2" fill="#0000ff"/>
<circle cx="51.14" cy="217.89" r="2" fill="#0000ff"/>
<circle cx="53.11" cy="208.88" r="2" fill="#0000ff"/>
<circle cx="55.42" cy="199.95" r="2" fill="#0000ff"/>
<circle cx="58.08" cy="191.12" r="2" fill="#0000ff"/>
<circle cx="61.06" cy="182.4" r="2" fill="#0000ff"/>
<text class="la" x="101.8" y="157.5" dy="0.6" text-anchor="start" transform="rotate(390 101.8 157.5)">Solyc01g100240</text>
<text class="la" x="106.04" y="150.47" dy="0.6" text-anchor="start" transform="rotate(392.19 106.04 150.47)">VIT 214s0006g01470</text>
<text class="la" x="110.55" y="143.61" dy="0.6" text-anchor="start" transform="rotate(394.38 110.55 143.61)">Potri.005G020200</text>
<text class="la" x="115.31" y="136.92" dy="0.6" text-anchor="start" transform="rotate(396.56 115.31 136.92)">Potri.013G010700</text>
<text class="la" x="120.32" y="130.43" dy="0.6" text-anchor="start" transform="rotate(398.75 120.32 130.43)">18430898</text>
<text class="la" x="125.58" y="124.12" dy="0.6" text-anchor="start" transform="rotate(400.94 125.58 124.12)">GrCBP60G-1</text>
<text class="la" x="131.08" y="118.03" dy="0.6" text-anchor="start" transform="rotate(403.12 131.08 118.03)">GrCBP60G-2</text>
<text class="la" x="136.8" y="112.15" dy="0.6" text-anchor="start" transform="rotate(405.31 136.8 112.15)">Thecc.05G050100</text>
<text class="la" x="142.75" y="106.49" dy="0.6" text-anchor="start" transform="rotate(407.5 142.75 106.49)">AtCBP60G</text>
<text class="la" x="148.9" y="101.06" dy="0.6" text-anchor="start" transform="rotate(409.69 148.9 101.06)">Glyma.16G176100</text>
<text class="la" x="155.26" y="95.87" dy="0.6" text-anchor="start" transform="rotate(411.88 155.26 95.87)">Vigun07g142800</text>
<text class="la" x="161.82" y="90.92" dy="0.6" text-anchor="start" transform="rotate(414.06 161.82 90.92)">Vigun08g182100</text>
<text class="la" x="168.55" y="86.23" dy="0.6" text-anchor="start" transform="rotate(416.25 168.55 86.23)">Glyma.19G214800</text>
<text class="la" x="175.46" y="81.81" dy="0.6" text-anchor="start" transform="rotate(418.44 175.46 81.81)">Glyma.03G220100</text>
<text class="la" x="182.54" y="77.64" dy="0.6" text-anchor="start" transform="rotate(420.62 182.54 77.64)">Glyma.19G222800</text>
<text class="la" x="189.77" y="73.75" dy="0.6" text-anchor="start" transform="rotate(422.81 189.77 73.75)">Vigun03g313300</text>
<text class="la" x="197.14" y="70.14" dy="0.6" text-anchor="start" transform="rotate(425 197.14 70.14)">Vigun03g313400</text>
<text class="la" x="204.64" y="66.82" dy="0.6" text-anchor="start" transform="rotate(427.19 204.64 66.82)">Glyma.10G221000</text>
<text class="la" x="212.27" y="63.78" dy="0.6" text-anchor="start" transform="rotate(429.38 212.27 63.78)">Glyma.20G106700</text>
<text class="la" x="220" y="61.04" dy="0.6" text-anchor="start" transform="rotate(431.56 220 61.04)">Os11g46810</text>
<text class="la" x="227.84" y="58.59" dy="0.6" text-anchor="start" transform="rotate(433.75 227.84 58.59)">Os11g46860</text>
<text class="la" x="235.76" y="56.44" dy="0.6" text-anchor="start" transform="rotate(435.94 235.76 56.44)">Os11g46870</text>
<text class="la" x="243.76" y="54.6" dy="0.6" text-anchor="start" transform="rotate(438.12 243.76 54.6)">Os12g38420</text>
<text class="la" x="251.82" y="53.07" dy="0.6" text-anchor="start" transform="rotate(440.31 251.82 53.07)">Os11g46840</text>
<text class="la" x="259.94" y="51.84" dy="0.6" text-anchor="start" transform="rotate(442.5 259.94 51.84)">Os11g46830</text>
<text class="la" x="268.09" y="50.92" dy="0.6" text-anchor="start" transform="rotate(444.69 268.09 50.92)">Sobic.005G138700</text>
<text class="la" x="276.28" y="50.32" dy="0.6" text-anchor="start" transform="rotate(446.88 276.28 50.32)">Os12g38430</text>
<text class="la" x="284.48" y="50.03" dy="0.6" text-anchor="start" transform="rotate(449.06 284.48 50.03)">Sobic.008G138700</text>
<text class="la" x="292.69" y="50.05" dy="0.6" text-anchor="end" transform="rotate(271.25 292.69 50.05)">Sobic.008G142900</text>
<text class="la" x="300.89" y="50.39" dy="0.6" text-anchor="end" transform="rotate(273.44 300.89 50.39)">Aco007368</text>
<text class="la" x="309.07" y="51.04" dy="0.6" text-anchor="end" transform="rotate(275.62 309.07 51.04)">Os12g38410</text>
<text class="la" x="317.23" y="52" dy="0.6" text-anchor="end" transform="rotate(277.81 317.23 52)">Sobic.008G142800</text>
<text class="la" x="325.33" y="53.27" dy="0.6" text-anchor="end" transform="rotate(280 325.33 53.27)">Zm00001d049113</text>
<text class="la" x="333.39" y="54.85" dy="0.6" text-anchor="end" transform="rotate(282.19 333.39 54.85)">Os03g26490</text>
<text class="la" x="341.38" y="56.73" dy="0.6" text-anchor="end" transform="rotate(284.38 341.38 56.73)">Sobic.001G290300</text>
<text class="la" x="349.29" y="58.92" dy="0.6" text-anchor="end" transform="rotate(286.56 349.29 58.92)">Sobic.001G290400</text>
<text class="la" x="357.11" y="61.41" dy="0.6" text-anchor="end" transform="rotate(288.75 357.11 61.41)">Os01g58360</text>
<text class="la" x="364.83" y="64.2" dy="0.6" text-anchor="end" transform="rotate(290.94 364.83 64.2)">Os05g34760</text>
<text class="la" x="372.44" y="67.28" dy="0.6" text-anchor="end" transform="rotate(293.12 372.44 67.28)">Os01g56170</text>
<text class="la" x="379.92" y="70.64" dy="0.6" text-anchor="end" transform="rotate(295.31 379.92 70.64)">AmTr00047g002</text>
<text class="la" x="387.28" y="74.29" dy="0.6" text-anchor="end" transform="rotate(297.5 387.28 74.29)">Aco010216</text>
<text class="la" x="394.48" y="78.22" dy="0.6" text-anchor="end" transform="rotate(299.69 394.48 78.22)">Os11g05930</text>
<text class="la" x="401.53" y="82.42" dy="0.6" text-anchor="end" transform="rotate(301.88 401.53 82.42)">Sobic.005G102500</text>
<text class="la" x="408.42" y="86.89" dy="0.6" text-anchor="end" transform="rotate(304.06 408.42 86.89)">Zm00001d032915</text>
<text class="la" x="415.13" y="91.61" dy="0.6" text-anchor="end" transform="rotate(306.25 415.13 91.61)">Zm00001d037265</text>
<text class="la" x="421.66" y="96.59" dy="0.6" text-anchor="end" transform="rotate(308.44 421.66 96.59)">Os01g55100</text>
<text class="la" x="427.99" y="101.82" dy="0.6" text-anchor="end" transform="rotate(310.62 427.99 101.82)">Os05g33810</text>
<text class="la" x="434.11" y="107.28" dy="0.6" text-anchor="end" transform="rotate(312.81 434.11 107.28)">Sobic.003G251800</text>
<text class="la" x="440.03" y="112.97" dy="0.6" text-anchor="end" transform="rotate(315 440.03 112.97)">Zm00001d044620</text>
<text class="la" x="445.72" y="118.89" dy="0.6" text-anchor="end" transform="rotate(317.19 445.72 118.89)">Aco016252</text>
<text class="la" x="451.18" y="125.01" dy="0.6" text-anchor="end" transform="rotate(319.38 451.18 125.01)">Os07g48440</text>
<text class="la" x="456.41" y="131.34" dy="0.6" text-anchor="end" transform="rotate(321.56 456.41 131.34)">Sobic.002G244000</text>
<text class="la" x="461.39" y="137.87" dy="0.6" text-anchor="end" transform="rotate(323.75 461.39 137.87)">Zm00001d012345</text>
<text class="la" x="466.11" y="144.58" dy="0.6" text-anchor="end" transform="rotate(325.94 466.11 144.58)">Zm00001d045679</text>
<text class="la" x="470.58" y="151.47" dy="0.6" text-anchor="end" transform="rotate(328.12 470.58 151.47)">AtSARD1</text>
<text class="la" x="474.78" y="158.52" dy="0.6" text-anchor="end" transform="rotate(330.31 474.78 158.52)">Solyc12g036390</text>
<text class="la" x="478.71" y="165.72" dy="0.6" text-anchor="end" transform="rotate(332.5 478.71 165.72)">Solyc03g119250</text>
<text class="la" x="482.36" y="173.08" dy="0.6" text-anchor="end" transform="rotate(334.69 482.36 173.08)">18418794</text>
<text class="la" x="485.72" y="180.56" dy="0.6" text-anchor="end" transform="rotate(336.88 485.72 180.56)">Vigun09g015900</text>
<text class="la" x="488.8" y="188.17" dy="0.6" text-anchor="end" transform="rotate(339.06 488.8 188.17)">Glyma.09G237200</text>
<text class="la" x="491.59" y="195.89" dy="0.6" text-anchor="end" transform="rotate(341.25 491.59 195.89)">Glyma.18G044400</text>
<text class="la" x="494.08" y="203.71" dy="0.6" text-anchor="end" transform="rotate(343.44 494.08 203.71)">Vigun04g034100</text>
<text class="la" x="496.27" y="211.62" dy="0.6" text-anchor="end" transform="rotate(345.62 496.27 211.62)">Glyma.06G182400</text>
<text class="la" x="498.15" y="219.61" dy="0.6" text-anchor="end" transform="rotate(347.81 498.15 219.61)">Glyma.07G092900</text>
<text class="la" x="499.73" y="227.67" dy="0.6" text-anchor="end" transform="rotate(350 499.73 227.67)">VIT 217s0000g03380</text>
<text class="la" x="501" y="235.77" dy="0.6" text-anchor="end" transform="rotate(352.19 501 235.77)">VIT 217s0000g03370</text>
<text class="la" x="501.96" y="243.93" dy="0.6" text-anchor="end" transform="rotate(354.38 501.96 243.93)">VIT 217s0000g03390</text>
<text class="la" x="502.61" y="252.11" dy="0.6" text-anchor="end" transform="rotate(356.56 502.61 252.11)">Potri.012G054900</text>
<text class="la" x="502.95" y="260.31" dy="0.6" text-anchor="end" transform="rotate(358.75 502.95 260.31)">Potri.015G045300</text>
<text class="la" x="502.97" y="268.52" dy="0.6" text-anchor="end" transform="rotate(0.94 502.97 268.52)">GrSARD1-2</text>
<text class="la" x="502.68" y="276.72" dy="0.6" text-anchor="end" transform="rotate(3.12 502.68 276.72)">GrSARD1-1</text>
<text class="la" x="502.08" y="284.91" dy="0.6" text-anchor="end" transform="rotate(5.31 502.08 284.91)">Thecc.03G038100</text>
<text class="la" x="501.16" y="293.06" dy="0.6" text-anchor="end" transform="rotate(7.5 501.16 293.06)">Solyc03g113880</text>
<text class="la" x="499.93" y="301.18" dy="0.6" text-anchor="end" transform="rotate(9.69 499.93 301.18)">Solyc03g113870</text>
<text class="la" x="498.4" y="309.24" dy="0.6" text-anchor="end" transform="rotate(11.88 498.4 309.24)">Solyc03g113860</text>
<text class="la" x="496.56" y="317.24" dy="0.6" text-anchor="end" transform="rotate(14.06 496.56 317.24)">Solyc03g113840</text>
<text class="la" x="494.41" y="325.16" dy="0.6" text-anchor="end" transform="rotate(16.25 494.41 325.16)">Solyc03g113850</text>
<text class="la" x="491.96" y="333" dy="0.6" text-anchor="end" transform="rotate(18.44 491.96 333)">AmTr00025g001</text>
<text class="la" x="489.22" y="340.73" dy="0.6" text-anchor="end" transform="rotate(20.62 489.22 340.73)">Aco026848</text>
<text class="la" x="486.18" y="348.36" dy="0.6" text-anchor="end" transform="rotate(22.81 486.18 348.36)">Os03g62860</text>
<text class="la" x="482.86" y="355.86" dy="0.6" text-anchor="end" transform="rotate(25 482.86 355.86)">Os03g22140</text>
<text class="la" x="479.25" y="363.23" dy="0.6" text-anchor="end" transform="rotate(27.19 479.25 363.23)">Sobic.001G033600</text>
<text class="la" x="475.36" y="370.46" dy="0.6" text-anchor="end" transform="rotate(29.38 475.36 370.46)">Zm00001d012552</text>
<text class="la" x="471.19" y="377.54" dy="0.6" text-anchor="end" transform="rotate(31.56 471.19 377.54)">AtCBP60A</text>
<text class="la" x="466.77" y="384.45" dy="0.6" text-anchor="end" transform="rotate(33.75 466.77 384.45)">Solyc12g009240</text>
<text class="la" x="462.08" y="391.18" dy="0.6" text-anchor="end" transform="rotate(35.94 462.08 391.18)">Vigun02g177800</text>
<text class="la" x="457.13" y="397.74" dy="0.6" text-anchor="end" transform="rotate(38.12 457.13 397.74)">Glyma.05G220500</text>
<text class="la" x="451.94" y="404.1" dy="0.6" text-anchor="end" transform="rotate(40.31 451.94 404.1)">Glyma.08G016200</text>
<text class="la" x="446.51" y="410.25" dy="0.6" text-anchor="end" transform="rotate(42.5 446.51 410.25)">VIT 211s0016g05790</text>
<text class="la" x="440.85" y="416.2" dy="0.6" text-anchor="end" transform="rotate(44.69 440.85 416.2)">Potri.002G208300</text>
<text class="la" x="434.97" y="421.92" dy="0.6" text-anchor="end" transform="rotate(46.88 434.97 421.92)">Potri.014G133800</text>
<text class="la" x="428.88" y="427.42" dy="0.6" text-anchor="end" transform="rotate(49.06 428.88 427.42)">18412759</text>
<text class="la" x="422.57" y="432.68" dy="0.6" text-anchor="end" transform="rotate(51.25 422.57 432.68)">GrCBP60A-2</text>
<text class="la" x="416.08" y="437.69" dy="0.6" text-anchor="end" transform="rotate(53.44 416.08 437.69)">GrCBP60A-1</text>
<text class="la" x="409.39" y="442.45" dy="0.6" text-anchor="end" transform="rotate(55.62 409.39 442.45)">Thecc.09G137000</text>
<text class="la" x="402.53" y="446.96" dy="0.6" text-anchor="end" transform="rotate(57.81 402.53 446.96)">Sm443281</text>
<text class="la" x="395.5" y="451.2" dy="0.6" text-anchor="end" transform="rotate(60 395.5 451.2)">Sm439516</text>
<text class="la" x="388.31" y="455.16" dy="0.6" text-anchor="end" transform="rotate(62.19 388.31 455.16)">Mapoly0012s0125</text>
<text class="la" x="380.98" y="458.85" dy="0.6" text-anchor="end" transform="rotate(64.38 380.98 458.85)">Mapoly0055s0061</text>
<text class="la" x="373.52" y="462.26" dy="0.6" text-anchor="end" transform="rotate(66.56 373.52 462.26)">Mapoly0144s0027</text>
<text class="la" x="365.92" y="465.38" dy="0.6" text-anchor="end" transform="rotate(68.75 365.92 465.38)">Pp3c2_18830</text>
<text class="la" x="358.22" y="468.21" dy="0.6" text-anchor="end" transform="rotate(70.94 358.22 468.21)">Pp3c1_36570</text>
<text class="la" x="350.41" y="470.74" dy="0.6" text-anchor="end" transform="rotate(73.12 350.41 470.74)">Pp3c14_18500</text>
<text class="la" x="342.51" y="472.97" dy="0.6" text-anchor="end" transform="rotate(75.31 342.51 472.97)">Pp3c17_18800</text>
<text class="la" x="334.53" y="474.9" dy="0.6" text-anchor="end" transform="rotate(77.5 334.53 474.9)">Pp3c5_36310</text>
<text class="la" x="326.49" y="476.53" dy="0.6" text-anchor="end" transform="rotate(79.69 326.49 476.53)">Pp3c3_13890</text>
<text class="la" x="318.39" y="477.84" dy="0.6" text-anchor="end" transform="rotate(81.88 318.39 477.84)">AtCBP60C</text>
<text class="la" x="310.24" y="478.85" dy="0.6" text-anchor="end" transform="rotate(84.06 310.24 478.85)">AtCBP60D</text>
<text class="la" x="302.06" y="479.54" dy="0.6" text-anchor="end" transform="rotate(86.25 302.06 479.54)">18428411</text>
<text class="la" x="293.86" y="479.92" dy="0.6" text-anchor="end" transform="rotate(88.44 293.86 479.92)">Thecc.04G191600</text>
<text class="la" x="285.65" y="479.99" dy="0.6" text-anchor="start" transform="rotate(270.62 285.65 479.99)">GrCBP60D</text>
<text class="la" x="277.45" y="479.74" dy="0.6" text-anchor="start" transform="rotate(272.81 277.45 479.74)">Potri.008G145900</text>
<text class="la" x="269.26" y="479.18" dy="0.6" text-anchor="start" transform="rotate(275 269.26 479.18)">Potri.010G093000</text>
<text class="la" x="261.1" y="478.31" dy="0.6" text-anchor="start" transform="rotate(277.19 261.1 478.31)">VIT 200s0346g00020</text>
<text class="la" x="252.98" y="477.13" dy="0.6" text-anchor="start" transform="rotate(279.38 252.98 477.13)">VIT 206s0004g02860</text>
<text class="la" x="244.91" y="475.64" dy="0.6" text-anchor="start" transform="rotate(281.56 244.91 475.64)">Glyma.12G218700</text>
<text class="la" x="236.9" y="473.84" dy="0.6" text-anchor="start" transform="rotate(283.75 236.9 473.84)">Glyma.13G279700</text>
<text class="la" x="228.96" y="471.74" dy="0.6" text-anchor="start" transform="rotate(285.94 228.96 471.74)">Vigun06g091300</text>
<text class="la" x="221.12" y="469.33" dy="0.6" text-anchor="start" transform="rotate(288.12 221.12 469.33)">AmTr00005g021</text>
<text class="la" x="213.36" y="466.63" dy="0.6" text-anchor="start" transform="rotate(290.31 213.36 466.63)">Aco014516</text>
<text class="la" x="205.72" y="463.63" dy="0.6" text-anchor="start" transform="rotate(292.5 205.72 463.63)">Os04g33040</text>
<text class="la" x="198.2" y="460.35" dy="0.6" text-anchor="start" transform="rotate(294.69 198.2 460.35)">Sobic.006G093800</text>
<text class="la" x="190.81" y="456.78" dy="0.6" text-anchor="start" transform="rotate(296.88 190.81 456.78)">Zm00001d049930</text>
<text class="la" x="183.56" y="452.93" dy="0.6" text-anchor="start" transform="rotate(299.06 183.56 452.93)">Aco005127</text>
<text class="la" x="176.46" y="448.81" dy="0.6" text-anchor="start" transform="rotate(301.25 176.46 448.81)">Os01g67990</text>
<text class="la" x="169.53" y="444.41" dy="0.6" text-anchor="start" transform="rotate(303.44 169.53 444.41)">Sobic.003G416600</text>
<text class="la" x="162.77" y="439.76" dy="0.6" text-anchor="start" transform="rotate(305.62 162.77 439.76)">Zm00001d034362</text>
<text class="la" x="156.19" y="434.85" dy="0.6" text-anchor="start" transform="rotate(307.81 156.19 434.85)">Os06g31910</text>
<text class="la" x="149.8" y="429.7" dy="0.6" text-anchor="start" transform="rotate(310 149.8 429.7)">Zm00001d003640</text>
<text class="la" x="143.61" y="424.3" dy="0.6" text-anchor="start" transform="rotate(312.19 143.61 424.3)">Zm00001d027908</text>
<text class="la" x="137.64" y="418.68" dy="0.6" text-anchor="start" transform="rotate(314.38 137.64 418.68)">Sobic.010G100000</text>
<text class="la" x="131.88" y="412.83" dy="0.6" text-anchor="start" transform="rotate(316.56 131.88 412.83)">Sobic.004G307500</text>
<text class="la" x="126.35" y="406.76" dy="0.6" text-anchor="start" transform="rotate(318.75 126.35 406.76)">AtCBP60B</text>
<text class="la" x="121.06" y="400.49" dy="0.6" text-anchor="start" transform="rotate(320.94 121.06 400.49)">AtCBP60E</text>
<text class="la" x="116.01" y="394.02" dy="0.6" text-anchor="start" transform="rotate(323.12 116.01 394.02)">AtCBP60F</text>
<text class="la" x="111.21" y="387.36" dy="0.6" text-anchor="start" transform="rotate(325.31 111.21 387.36)">Vigun09g197800</text>
<text class="la" x="106.67" y="380.52" dy="0.6" text-anchor="start" transform="rotate(327.5 106.67 380.52)">Glyma.13G064900</text>
<text class="la" x="102.39" y="373.51" dy="0.6" text-anchor="start" transform="rotate(329.69 102.39 373.51)">Glyma.17G064000</text>
<text class="la" x="98.39" y="366.35" dy="0.6" text-anchor="start" transform="rotate(331.88 98.39 366.35)">VIT 211s0052g01180</text>
<text class="la" x="94.66" y="359.04" dy="0.6" text-anchor="start" transform="rotate(334.06 94.66 359.04)">18423437</text>
<text class="la" x="91.21" y="351.59" dy="0.6" text-anchor="start" transform="rotate(336.25 91.21 351.59)">Solyc07g063010</text>
<text class="la" x="88.05" y="344.02" dy="0.6" text-anchor="start" transform="rotate(338.44 88.05 344.02)">Potri.019G051000</text>
<text class="la" x="85.18" y="336.33" dy="0.6" text-anchor="start" transform="rotate(340.62 85.18 336.33)">Thecc.06G109700</text>
<text class="la" x="82.6" y="328.53" dy="0.6" text-anchor="start" transform="rotate(342.81 82.6 328.53)">GrCBP60B</text>
<text class="la" x="80.33" y="320.65" dy="0.6" text-anchor="start" transform="rotate(345 80.33 320.65)">GrCBP60E</text>
<text class="la" x="78.35" y="312.68" dy="0.6" text-anchor="start" transform="rotate(347.19 78.35 312.68)">Solyc10g008380</text>
<text class="la" x="76.69" y="304.64" dy="0.6" text-anchor="start" transform="rotate(349.38 76.69 304.64)">Solyc02g079040</text>
<text class="la" x="75.33" y="296.55" dy="0.6" text-anchor="start" transform="rotate(351.56 75.33 296.55)">Glyma.15G067700</text>
<text class="la" x="74.28" y="288.41" dy="0.6" text-anchor="start" transform="rotate(353.75 74.28 288.41)">Vigun06g207900</text>
<text class="la" x="73.54" y="280.23" dy="0.6" text-anchor="start" transform="rotate(355.94 73.54 280.23)">Vigun03g114800</text>
<text class="la" x="73.12" y="272.03" dy="0.6" text-anchor="start" transform="rotate(358.12 73.12 272.03)">Glyma.08G058600</text>
<text class="la" x="73" y="263.83" dy="0.6" text-anchor="start" transform="rotate(360.31 73 263.83)">Glyma.07G190700</text>
<text class="la" x="73.2" y="255.62" dy="0.6" text-anchor="start" transform="rotate(362.5 73.2 255.62)">Potri.004G035100</text>
<text class="la" x="73.72" y="247.43" dy="0.6" text-anchor="start" transform="rotate(364.69 73.72 247.43)">Potri.011G043300</text>
<text class="la" x="74.55" y="239.26" dy="0.6" text-anchor="start" transform="rotate(366.88 74.55 239.26)">Potri.011G043200</text>
<text class="la" x="75.68" y="231.13" dy="0.6" text-anchor="start" transform="rotate(369.06 75.68 231.13)">18415480</text>
<text class="la" x="77.13" y="223.06" dy="0.6" text-anchor="start" transform="rotate(371.25 77.13 223.06)">VIT 200s0181g00220</text>
<text class="la" x="78.89" y="215.04" dy="0.6" text-anchor="start" transform="rotate(373.44 78.89 215.04)">Thecc.09G198900</text>
<text class="la" x="80.95" y="207.09" dy="0.6" text-anchor="start" transform="rotate(375.62 80.95 207.09)">GrCBP60C-1</text>
<text class="la" x="83.31" y="199.23" dy="0.6" text-anchor="start" transform="rotate(377.81 83.31 199.23)">GrCBP60C-3</text>
<text class="la" x="85.97" y="191.47" dy="0.6" text-anchor="start" transform="rotate(380 85.97 191.47)">GrCBP60C-2</text>
<path d="M74.08 686.92 A237.5 237.5 0 0 1 265.28 561.24 L266.03 570.71 A228 228 0 0 0 82.47 691.37 Z" fill="#8b7fc8"/>
<path d="M265.28 561.24 A237.5 237.5 0 0 1 473.86 655.32 L466.27 661.02 A228 228 0 0 0 266.03 570.71 Z" fill="#59a23a"/>
<path d="M473.86 655.32 A237.5 237.5 0 0 1 506.21 881.83 L497.32 878.48 A228 228 0 0 0 466.27 661.02 Z" fill="#ea9532"/>
<path d="M506.21 881.83 A237.5 237.5 0 1 1 64.29 707.82 L73.08 711.43 A228 228 0 1 0 497.32 878.48 Z" fill="#ee4438"/>
<path d="M260.41 776.08A32.2 32.2 0 0 1 312.83 812.33M312.83 812.33L326.89 819.32M328.68 780.72A47.9 47.9 0 0 1 297.2 844.05M293.39 784.43L302.32 771.52" fill="none" stroke="#4a4a4a" stroke-width="1.2"/>
<path d="M260.41 776.08L225.92 744.01M215.39 758.23A79.3 79.3 0 0 1 239.33 732.48M215.39 758.23L136.06 712.24M239.33 732.48L230.48 719.51M211.6 736.5A95 95 0 0 1 253.2 708.13M211.6 736.5L199.63 726.33M192.8 735.25A110.7 110.7 0 0 1 207.32 718.15M192.8 735.25L143.13 701.07M207.32 718.15L196.45 706.83M188.86 714.78A126.4 126.4 0 0 1 204.7 699.57M188.86 714.78L165.23 694.11M161.3 698.78A157.8 157.8 0 0 1 169.33 689.6M161.3 698.78L151.03 690.48M169.33 689.6L159.74 680.53M204.7 699.57L194.85 687.34M188.59 692.7A142.1 142.1 0 0 1 201.42 682.36M188.59 692.7L169.18 671.28M201.42 682.36L192.29 669.59M187.4 673.23A157.8 157.8 0 0 1 197.32 666.14M187.4 673.23L179.32 662.79M197.32 666.14L190.07 655.11M253.2 708.13L243.02 678.43M229.45 683.97A126.4 126.4 0 0 1 257.13 674.49M229.45 683.97L222.68 669.81M215.35 673.58A142.1 142.1 0 0 1 230.21 666.47M215.35 673.58L201.39 648.28M230.21 666.47L224.27 651.94M218.67 654.36A157.8 157.8 0 0 1 229.96 649.74M218.67 654.36L213.2 642.34M229.96 649.74L225.44 637.34M257.13 674.49L253.79 659.15M245.8 661.13A142.1 142.1 0 0 1 261.89 657.63M245.8 661.13L238.03 633.3M261.89 657.63L259.45 642.12M253.44 643.19A157.8 157.8 0 0 1 265.49 641.29M253.44 643.19L250.89 630.24M265.49 641.29L263.94 628.18" fill="none" stroke="#9c98d2" stroke-width="1.2"/>
<path d="M290.44 766.45L303 704.92M280.18 703.08A95 95 0 0 1 324.73 712.17M280.18 703.08L277.12 627.14M324.73 712.17L331.46 697.99M307.19 689.76A110.7 110.7 0 0 1 353.18 711.58M307.19 689.76L310.48 674.41M296 672.17A126.4 126.4 0 0 1 324.61 678.3M296 672.17L297.49 656.54M289.27 656A142.1 142.1 0 0 1 305.67 657.56M289.27 656L290.34 627.12M305.67 657.56L308.06 642.05M302.02 641.23A157.8 157.8 0 0 1 314.07 643.09M302.02 641.23L303.52 628.12M314.07 643.09L316.59 630.13M324.61 678.3L329.65 663.43M321.77 661.01A142.1 142.1 0 0 1 337.37 666.3M321.77 661.01L329.46 633.15M337.37 666.3L343.27 651.75M337.57 649.57A157.8 157.8 0 0 1 348.88 654.15M337.57 649.57L342.06 637.16M348.88 654.15L354.31 642.12M353.18 711.58L362.99 699.32M351.04 690.84A126.4 126.4 0 0 1 373.88 709.12M351.04 690.84L359.37 677.53M352.26 673.37A142.1 142.1 0 0 1 366.22 682.1M352.26 673.37L366.14 648.02M366.22 682.1L375.31 669.3M370.26 665.87A157.8 157.8 0 0 1 380.21 672.92M370.26 665.87L377.48 654.81M380.21 672.92L388.26 662.46M373.88 709.12L385.04 698.09M379.08 692.4A142.1 142.1 0 0 1 390.66 704.11M379.08 692.4L398.42 670.92M390.66 704.11L402.45 693.74M398.33 689.24A157.8 157.8 0 0 1 406.39 698.39M398.33 689.24L407.89 680.14M406.39 698.39L416.63 690.06" fill="none" stroke="#79b25e" stroke-width="1.2"/>
<path d="M328.68 780.72L372.61 763.74M362.09 743.9A95 95 0 0 1 378.17 785.48M362.09 743.9L424.57 700.63M378.17 785.48L393.73 783.41M387.05 757.57A110.7 110.7 0 0 1 394.04 810.09M387.05 757.57L401.67 751.84M395.54 738.53A126.4 126.4 0 0 1 406.22 765.77M395.54 738.53L423.25 723.76M420.27 718.43A157.8 157.8 0 0 1 426.01 729.2M420.27 718.43L431.67 711.78M426.01 729.2L437.89 723.44M406.22 765.77L421.4 761.76M418.19 751.26A142.1 142.1 0 0 1 423.79 772.49M418.19 751.26L433.02 746.09M430.9 740.37A157.8 157.8 0 0 1 434.91 751.89M430.9 740.37L443.19 735.55M434.91 751.89L447.54 748.04M423.79 772.49L439.24 769.67M438.02 763.69A157.8 157.8 0 0 1 440.21 775.69M438.02 763.69L450.91 760.82M440.21 775.69L453.28 773.82M394.04 810.09L409.64 811.81M410.4 797.17A126.4 126.4 0 0 1 407.2 826.25M410.4 797.17L426.1 797.07M425.8 788.84A142.1 142.1 0 0 1 425.91 805.31M425.8 788.84L454.64 786.97M425.91 805.31L441.59 806.12M441.79 800.02A157.8 157.8 0 0 1 441.16 812.2M441.79 800.02L454.99 800.19M441.16 812.2L454.31 813.39M407.2 826.25L422.5 829.76M424.11 821.68A142.1 142.1 0 0 1 420.43 837.74M424.11 821.68L452.61 826.5M420.43 837.74L435.5 842.13M437.1 836.24A157.8 157.8 0 0 1 433.69 847.95M437.1 836.24L449.9 839.44M433.69 847.95L446.21 852.13" fill="none" stroke="#f2b480" stroke-width="1.2"/>
<path d="M297.2 844.05L301.52 859.14M337.84 831.85A63.6 63.6 0 0 1 256.27 855.23M337.84 831.85L364.42 848.57M370.03 838.3A95 95 0 0 1 357.6 858.07M370.03 838.3L426.9 864.94M429.38 859.37A157.8 157.8 0 0 1 424.2 870.41M429.38 859.37L441.54 864.5M424.2 870.41L435.93 876.47M357.6 858.07L369.76 868M375.82 859.84A110.7 110.7 0 0 1 362.98 875.57M375.82 859.84L414.88 886.15M418.19 881.03A157.8 157.8 0 0 1 411.38 891.14M418.19 881.03L429.42 887.97M411.38 891.14L422.03 898.94M362.98 875.57L374.18 886.57M379.96 880.27A126.4 126.4 0 0 1 367.99 892.46M379.96 880.27L413.82 909.3M367.99 892.46L378.42 904.2M384.42 898.54A142.1 142.1 0 0 1 372.11 909.49M384.42 898.54L404.84 918.99M372.11 909.49L381.84 921.81M386.55 917.93A157.8 157.8 0 0 1 376.98 925.5M386.55 917.93L395.13 927.97M376.98 925.5L384.76 936.16M256.27 855.23L249.42 869.36M300.13 875.64A79.3 79.3 0 0 1 213.07 833.45M300.13 875.64L303.32 891.01M329.11 881.61A95 95 0 0 1 275.92 892.66M329.11 881.61L351.48 923.06M358.61 918.94A142.1 142.1 0 0 1 344.11 926.76M358.61 918.94L373.78 943.53M344.11 926.76L350.76 940.98M356.23 938.3A157.8 157.8 0 0 1 345.18 943.46M356.23 938.3L362.27 950.03M345.18 943.46L350.3 955.63M275.92 892.66L274.59 908.3M300.2 907.51A110.7 110.7 0 0 1 249.48 903.18M300.2 907.51L302.49 923.04M316.84 920.06A126.4 126.4 0 0 1 287.9 924.34M316.84 920.06L320.92 935.22M328.81 932.85A142.1 142.1 0 0 1 312.9 937.13M328.81 932.85L337.92 960.28M312.9 937.13L316.1 952.5M322.04 951.15A157.8 157.8 0 0 1 310.1 953.63M322.04 951.15L325.23 963.96M310.1 953.63L312.28 966.64M287.9 924.34L288.38 940.03M296.61 939.54A142.1 142.1 0 0 1 280.14 940.05M296.61 939.54L299.17 968.33M280.14 940.05L279.72 955.74M285.82 955.79A157.8 157.8 0 0 1 273.62 955.46M285.82 955.79L285.97 968.99M273.62 955.46L272.75 968.63M249.48 903.18L244.58 918.1M258.75 921.85A126.4 126.4 0 0 1 230.95 912.73M258.75 921.85L255.61 937.24M263.73 938.65A142.1 142.1 0 0 1 247.59 935.36M263.73 938.65L259.61 967.25M247.59 935.36L243.57 950.53M249.49 951.98A157.8 157.8 0 0 1 237.7 948.85M249.49 951.98L246.61 964.86M237.7 948.85L233.83 961.47M230.95 912.73L224.36 926.98M231.94 930.22A142.1 142.1 0 0 1 216.99 923.31M231.94 930.22L221.35 957.11M216.99 923.31L209.58 937.15M215.02 939.92A157.8 157.8 0 0 1 204.26 934.17M215.02 939.92L209.25 951.79M204.26 934.17L197.59 945.56M213.07 833.45L199.02 840.47M220.11 868.31A95 95 0 0 1 189.42 806.9M220.11 868.31L209.55 879.93M217.38 886.41A110.7 110.7 0 0 1 202.36 872.76M217.38 886.41L189.04 924.03M193.98 927.6A157.8 157.8 0 0 1 184.24 920.26M193.98 927.6L186.45 938.44M184.24 920.26L175.89 930.49M202.36 872.76L190.78 883.36M196.76 889.47A126.4 126.4 0 0 1 185.22 876.86M196.76 889.47L165.98 921.74M185.22 876.86L172.95 886.66M178.28 892.95A142.1 142.1 0 0 1 168 880.07M178.28 892.95L156.77 912.26M168 880.07L155.18 889.14M158.8 894.05A157.8 157.8 0 0 1 151.75 884.09M158.8 894.05L148.33 902.09M151.75 884.09L140.69 891.29M189.42 806.9L173.79 808.37M179.12 833.43A110.7 110.7 0 0 1 174.35 782.75M179.12 833.43L164.25 838.45M169.73 852.04A126.4 126.4 0 0 1 160.37 824.32M169.73 852.04L155.54 858.75M159.28 866.1A142.1 142.1 0 0 1 152.24 851.21M159.28 866.1L133.91 879.95M152.24 851.21L137.68 857.08M140.07 862.7A157.8 157.8 0 0 1 135.5 851.38M140.07 862.7L128.03 868.11M135.5 851.38L123.08 855.85M160.37 824.32L145.02 827.59M146.96 835.6A142.1 142.1 0 0 1 143.53 819.49M146.96 835.6L119.09 843.25M143.53 819.49L128.01 821.86M129.05 827.87A157.8 157.8 0 0 1 127.21 815.81M129.05 827.87L116.09 830.37M127.21 815.81L114.09 817.31M174.35 782.75L158.8 780.59M157.63 795.2A126.4 126.4 0 0 1 161.66 766.22M157.63 795.2L141.93 794.85M141.99 803.09A142.1 142.1 0 0 1 142.36 786.62M141.99 803.09L113.11 804.12M142.36 786.62L126.71 785.36M126.34 791.45A157.8 157.8 0 0 1 127.31 779.29M126.34 791.45L113.15 790.9M127.31 779.29L114.21 777.73M161.66 766.22L146.46 762.27M144.63 770.3A142.1 142.1 0 0 1 148.77 754.36M144.63 770.3L116.28 764.67M148.77 754.36L133.83 749.54M132.06 755.38A157.8 157.8 0 0 1 135.81 743.77M132.06 755.38L119.36 751.81M135.81 743.77L123.41 739.23" fill="none" stroke="#ee7c76" stroke-width="1.2"/>
<circle cx="133.03" cy="710.49" r="3.4" fill="#e8902a"/>
<rect x="137.24" y="696.09" width="6" height="6" fill="#00ee00" transform="rotate(214.53 140.24 699.09)"/>
<rect x="145.31" y="685.28" width="6" height="6" fill="#ff0000" transform="rotate(218.96 148.31 688.28)"/>
<rect x="154.19" y="675.12" width="6" height="6" fill="#0000ee" transform="rotate(223.39 157.19 678.12)"/>
<rect x="163.83" y="665.69" width="6" height="6" fill="#ffee00" transform="rotate(227.82 166.83 668.69)"/>
<rect x="174.17" y="657.02" width="6" height="6" fill="#00ee00" transform="rotate(232.25 177.17 660.02)"/>
<rect x="185.15" y="649.18" width="6" height="6" fill="#ff0000" transform="rotate(236.68 188.15 652.18)"/>
<rect x="196.7" y="642.21" width="6" height="6" fill="#ffee00" transform="rotate(241.11 199.7 645.21)"/>
<rect x="208.76" y="636.16" width="6" height="6" fill="#00ee00" transform="rotate(245.54 211.76 639.16)"/>
<rect x="221.24" y="631.05" width="6" height="6" fill="#ff0000" transform="rotate(249.97 224.24 634.05)"/>
<rect x="234.08" y="626.93" width="6" height="6" fill="#0000ee" transform="rotate(254.4 237.08 629.93)"/>
<rect x="247.21" y="623.8" width="6" height="6" fill="#00ee00" transform="rotate(258.83 250.21 626.8)"/>
<rect x="260.53" y="621.7" width="6" height="6" fill="#ff0000" transform="rotate(263.26 263.53 624.7)"/>
<circle cx="276.98" cy="623.64" r="3.4" fill="#e8902a"/>
<rect x="287.47" y="620.62" width="6" height="6" fill="#ffee00" transform="rotate(272.13 290.47 623.62)"/>
<rect x="300.92" y="621.64" width="6" height="6" fill="#00ee00" transform="rotate(276.56 303.92 624.64)"/>
<rect x="314.25" y="623.7" width="6" height="6" fill="#ff0000" transform="rotate(280.99 317.25 626.7)"/>
<rect x="327.39" y="626.78" width="6" height="6" fill="#0000ee" transform="rotate(285.42 330.39 629.78)"/>
<rect x="340.24" y="630.86" width="6" height="6" fill="#00ee00" transform="rotate(289.85 343.24 633.86)"/>
<rect x="352.75" y="635.93" width="6" height="6" fill="#ff0000" transform="rotate(294.28 355.75 638.93)"/>
<rect x="364.82" y="641.95" width="6" height="6" fill="#00ee00" transform="rotate(298.71 367.82 644.95)"/>
<rect x="376.39" y="648.88" width="6" height="6" fill="#ffee00" transform="rotate(303.14 379.39 651.88)"/>
<rect x="387.39" y="656.69" width="6" height="6" fill="#ff0000" transform="rotate(307.57 390.39 659.69)"/>
<rect x="397.76" y="665.32" width="6" height="6" fill="#ff0000" transform="rotate(312 400.76 668.32)"/>
<rect x="407.43" y="674.73" width="6" height="6" fill="#00ee00" transform="rotate(316.43 410.43 677.73)"/>
<rect x="416.34" y="684.85" width="6" height="6" fill="#0000ee" transform="rotate(320.86 419.34 687.85)"/>
<circle cx="427.45" cy="698.64" r="3.4" fill="#e8902a"/>
<rect x="431.69" y="707.01" width="6" height="6" fill="#00ee00" transform="rotate(329.72 434.69 710.01)"/>
<rect x="438.04" y="718.92" width="6" height="6" fill="#ff0000" transform="rotate(334.15 441.04 721.92)"/>
<rect x="443.45" y="731.28" width="6" height="6" fill="#00ee00" transform="rotate(338.58 446.45 734.28)"/>
<rect x="447.89" y="744.01" width="6" height="6" fill="#ff0000" transform="rotate(343.01 450.89 747.01)"/>
<rect x="451.33" y="757.06" width="6" height="6" fill="#ffee00" transform="rotate(347.44 454.33 760.06)"/>
<rect x="453.75" y="770.33" width="6" height="6" fill="#0000ee" transform="rotate(351.87 456.75 773.33)"/>
<rect x="455.14" y="783.75" width="6" height="6" fill="#ff0000" transform="rotate(356.3 458.14 786.75)"/>
<rect x="455.49" y="797.23" width="6" height="6" fill="#ffee00" transform="rotate(0.73 458.49 800.23)"/>
<rect x="454.79" y="810.7" width="6" height="6" fill="#00ee00" transform="rotate(5.16 457.79 813.7)"/>
<rect x="453.06" y="824.08" width="6" height="6" fill="#0000ee" transform="rotate(9.59 456.06 827.08)"/>
<rect x="450.3" y="837.29" width="6" height="6" fill="#00ee00" transform="rotate(14.02 453.3 840.29)"/>
<rect x="446.53" y="850.24" width="6" height="6" fill="#ff0000" transform="rotate(18.45 449.53 853.24)"/>
<circle cx="444.76" cy="865.86" r="3.4" fill="#e8902a"/>
<circle cx="439.04" cy="878.08" r="3.4" fill="#e8902a"/>
<rect x="429.39" y="886.81" width="6" height="6" fill="#00ee00" transform="rotate(31.75 432.39 889.81)"/>
<rect x="421.86" y="898" width="6" height="6" fill="#ff0000" transform="rotate(36.18 424.86 901)"/>
<rect x="413.48" y="908.57" width="6" height="6" fill="#ffee00" transform="rotate(40.61 416.48 911.57)"/>
<rect x="404.31" y="918.47" width="6" height="6" fill="#0000ee" transform="rotate(45.04 407.31 921.47)"/>
<rect x="394.4" y="927.63" width="6" height="6" fill="#00ee00" transform="rotate(49.47 397.4 930.63)"/>
<rect x="383.82" y="935.99" width="6" height="6" fill="#ff0000" transform="rotate(53.9 386.82 938.99)"/>
<circle cx="375.62" cy="946.51" r="3.4" fill="#e8902a"/>
<circle cx="363.88" cy="953.14" r="3.4" fill="#e8902a"/>
<circle cx="351.65" cy="958.85" r="3.4" fill="#e8902a"/>
<rect x="336.03" y="960.6" width="6" height="6" fill="#ffee00" transform="rotate(71.62 339.03 963.6)"/>
<rect x="323.07" y="964.35" width="6" height="6" fill="#00ee00" transform="rotate(76.05 326.07 967.35)"/>
<rect x="309.86" y="967.1" width="6" height="6" fill="#ff0000" transform="rotate(80.48 312.86 970.1)"/>
<rect x="296.48" y="968.81" width="6" height="6" fill="#00ee00" transform="rotate(84.91 299.48 971.81)"/>
<rect x="283.01" y="969.49" width="6" height="6" fill="#ff0000" transform="rotate(89.34 286.01 972.49)"/>
<rect x="269.52" y="969.12" width="6" height="6" fill="#0000ee" transform="rotate(93.77 272.52 972.12)"/>
<rect x="256.11" y="967.72" width="6" height="6" fill="#ffee00" transform="rotate(98.2 259.11 970.72)"/>
<rect x="242.84" y="965.28" width="6" height="6" fill="#00ee00" transform="rotate(102.63 245.84 968.28)"/>
<rect x="229.8" y="961.82" width="6" height="6" fill="#ff0000" transform="rotate(107.06 232.8 964.82)"/>
<rect x="217.07" y="957.37" width="6" height="6" fill="#0000ee" transform="rotate(111.49 220.07 960.37)"/>
<rect x="204.72" y="951.94" width="6" height="6" fill="#00ee00" transform="rotate(115.92 207.72 954.94)"/>
<rect x="192.82" y="945.58" width="6" height="6" fill="#ff0000" transform="rotate(120.35 195.82 948.58)"/>
<rect x="181.45" y="938.32" width="6" height="6" fill="#00ee00" transform="rotate(124.78 184.45 941.32)"/>
<rect x="170.68" y="930.2" width="6" height="6" fill="#ff0000" transform="rotate(129.21 173.68 933.2)"/>
<rect x="160.56" y="921.27" width="6" height="6" fill="#ffee00" transform="rotate(133.64 163.56 924.27)"/>
<rect x="151.17" y="911.59" width="6" height="6" fill="#0000ee" transform="rotate(138.07 154.17 914.59)"/>
<rect x="142.55" y="901.22" width="6" height="6" fill="#00ee00" transform="rotate(142.51 145.55 904.22)"/>
<rect x="134.76" y="890.2" width="6" height="6" fill="#ff0000" transform="rotate(146.94 137.76 893.2)"/>
<rect x="127.84" y="878.62" width="6" height="6" fill="#ffee00" transform="rotate(151.37 130.84 881.62)"/>
<rect x="121.84" y="866.54" width="6" height="6" fill="#00ee00" transform="rotate(155.8 124.84 869.54)"/>
<rect x="116.79" y="854.03" width="6" height="6" fill="#ff0000" transform="rotate(160.23 119.79 857.03)"/>
<rect x="112.72" y="841.17" width="6" height="6" fill="#0000ee" transform="rotate(164.66 115.72 844.17)"/>
<rect x="109.66" y="828.04" width="6" height="6" fill="#00ee00" transform="rotate(169.09 112.66 831.04)"/>
<rect x="107.62" y="814.7" width="6" height="6" fill="#ff0000" transform="rotate(173.52 110.62 817.7)"/>
<rect x="106.61" y="801.25" width="6" height="6" fill="#ff0000" transform="rotate(177.95 109.61 804.25)"/>
<rect x="106.65" y="787.76" width="6" height="6" fill="#ffee00" transform="rotate(182.38 109.65 790.76)"/>
<rect x="107.73" y="774.31" width="6" height="6" fill="#00ee00" transform="rotate(186.81 110.73 777.31)"/>
<rect x="109.85" y="760.99" width="6" height="6" fill="#0000ee" transform="rotate(191.24 112.85 763.99)"/>
<rect x="112.99" y="747.87" width="6" height="6" fill="#ff0000" transform="rotate(195.67 115.99 750.87)"/>
<rect x="117.13" y="735.03" width="6" height="6" fill="#00ee00" transform="rotate(200.1 120.13 738.03)"/>
<text class="lo" x="87.26" y="683.96" dy="0.4" text-anchor="start" transform="rotate(390.1 87.26 683.96)">AtCBP60G</text>
<text class="lb" x="96.83" y="669.21" dy="0.4" text-anchor="start" transform="rotate(394.53 96.83 669.21)">GbCBP60G-2D</text>
<text class="lb" x="107.33" y="655.14" dy="0.4" text-anchor="start" transform="rotate(398.96 107.33 655.14)">GhCBP60G-2D</text>
<text class="lb" x="118.9" y="641.92" dy="0.4" text-anchor="start" transform="rotate(403.39 118.9 641.92)">GrCBP60G-2</text>
<text class="lb" x="131.45" y="629.63" dy="0.4" text-anchor="start" transform="rotate(407.82 131.45 629.63)">GaCBP60G-2</text>
<text class="lb" x="144.91" y="618.35" dy="0.4" text-anchor="start" transform="rotate(412.25 144.91 618.35)">GbCBP60G-2A</text>
<text class="lb" x="159.2" y="608.14" dy="0.4" text-anchor="start" transform="rotate(416.68 159.2 608.14)">GhCBP60G-2A</text>
<text class="lb" x="174.24" y="599.07" dy="0.4" text-anchor="start" transform="rotate(421.11 174.24 599.07)">GaCBP60G-1</text>
<text class="lb" x="189.94" y="591.19" dy="0.4" text-anchor="start" transform="rotate(425.54 189.94 591.19)">GbCBP60G-1A</text>
<text class="lb" x="206.19" y="584.54" dy="0.4" text-anchor="start" transform="rotate(429.97 206.19 584.54)">GhCBP60G-1A</text>
<text class="lb" x="222.92" y="579.17" dy="0.4" text-anchor="start" transform="rotate(434.4 222.92 579.17)">GrCBP60G-1</text>
<text class="lb" x="240" y="575.1" dy="0.4" text-anchor="start" transform="rotate(438.83 240 575.1)">GbCBP60G-1D</text>
<text class="lb" x="257.35" y="572.37" dy="0.4" text-anchor="start" transform="rotate(443.26 257.35 572.37)">GhCBP60G-1D</text>
<text class="lo" x="274.85" y="570.78" dy="0.4" text-anchor="start" transform="rotate(447.69 274.85 570.78)">AtSARD1</text>
<text class="lb" x="292.43" y="570.96" dy="0.4" text-anchor="end" transform="rotate(272.13 292.43 570.96)">GaSARD1-2</text>
<text class="lb" x="309.94" y="572.29" dy="0.4" text-anchor="end" transform="rotate(276.56 309.94 572.29)">GbSARD1-2A</text>
<text class="lb" x="327.3" y="574.96" dy="0.4" text-anchor="end" transform="rotate(280.99 327.3 574.96)">GhSARD1-2A</text>
<text class="lb" x="344.4" y="578.97" dy="0.4" text-anchor="end" transform="rotate(285.42 344.4 578.97)">GrSARD1-2</text>
<text class="lb" x="361.14" y="584.29" dy="0.4" text-anchor="end" transform="rotate(289.85 361.14 584.29)">GbSARD1-2D</text>
<text class="lb" x="377.41" y="590.89" dy="0.4" text-anchor="end" transform="rotate(294.28 377.41 590.89)">GhSARD1-2D</text>
<text class="lb" x="393.13" y="598.73" dy="0.4" text-anchor="end" transform="rotate(298.71 393.13 598.73)">GbSARD1-1A</text>
<text class="lb" x="408.2" y="607.75" dy="0.4" text-anchor="end" transform="rotate(303.14 408.2 607.75)">GaSARD1-1</text>
<text class="lb" x="422.53" y="617.92" dy="0.4" text-anchor="end" transform="rotate(307.57 422.53 617.92)">GhSARD1-1A</text>
<text class="lb" x="436.02" y="629.15" dy="0.4" text-anchor="end" transform="rotate(312 436.02 629.15)">GhSARD1-1D</text>
<text class="lb" x="448.61" y="641.4" dy="0.4" text-anchor="end" transform="rotate(316.43 448.61 641.4)">GbSARD1-1D</text>
<text class="lb" x="460.22" y="654.59" dy="0.4" text-anchor="end" transform="rotate(320.86 460.22 654.59)">GrSARD1-1</text>
<text class="lo" x="470.93" y="668.51" dy="0.4" text-anchor="end" transform="rotate(325.29 470.93 668.51)">AtCBP60A</text>
<text class="lb" x="480.2" y="683.44" dy="0.4" text-anchor="end" transform="rotate(329.72 480.2 683.44)">GbCBP60A-1A</text>
<text class="lb" x="488.47" y="698.94" dy="0.4" text-anchor="end" transform="rotate(334.15 488.47 698.94)">GhCBP60A-1A</text>
<text class="lb" x="495.51" y="715.03" dy="0.4" text-anchor="end" transform="rotate(338.58 495.51 715.03)">GbCBP60A-1D</text>
<text class="lb" x="501.29" y="731.62" dy="0.4" text-anchor="end" transform="rotate(343.01 501.29 731.62)">GhCBP60A-1D</text>
<text class="lb" x="505.76" y="748.6" dy="0.4" text-anchor="end" transform="rotate(347.44 505.76 748.6)">GaCBP60A-1</text>
<text class="lb" x="508.92" y="765.88" dy="0.4" text-anchor="end" transform="rotate(351.87 508.92 765.88)">GrCBP60A-1</text>
<text class="lb" x="510.73" y="783.35" dy="0.4" text-anchor="end" transform="rotate(356.3 510.73 783.35)">GhCBP60A-2A</text>
<text class="lb" x="511.18" y="800.91" dy="0.4" text-anchor="end" transform="rotate(0.73 511.18 800.91)">GaCBP60A-2</text>
<text class="lb" x="510.28" y="818.45" dy="0.4" text-anchor="end" transform="rotate(5.16 510.28 818.45)">GbCBP60A-2A</text>
<text class="lb" x="508.02" y="835.87" dy="0.4" text-anchor="end" transform="rotate(9.59 508.02 835.87)">GrCBP60A-2</text>
<text class="lb" x="504.43" y="853.06" dy="0.4" text-anchor="end" transform="rotate(14.02 504.43 853.06)">GbCBP60A-2D</text>
<text class="lb" x="499.52" y="869.92" dy="0.4" text-anchor="end" transform="rotate(18.45 499.52 869.92)">GhCBP60A-2D</text>
<text class="lo" x="493.5" y="886.43" dy="0.4" text-anchor="end" transform="rotate(22.88 493.5 886.43)">AtCBP60E</text>
<text class="lo" x="486.04" y="902.35" dy="0.4" text-anchor="end" transform="rotate(27.32 486.04 902.35)">AtCBP60F</text>
<text class="lb" x="477.21" y="917.54" dy="0.4" text-anchor="end" transform="rotate(31.75 477.21 917.54)">GbCBP60E-A</text>
<text class="lb" x="467.4" y="932.11" dy="0.4" text-anchor="end" transform="rotate(36.18 467.4 932.11)">GhCBP60E-A</text>
<text class="lb" x="456.49" y="945.87" dy="0.4" text-anchor="end" transform="rotate(40.61 456.49 945.87)">GaCBP60E</text>
<text class="lb" x="444.55" y="958.76" dy="0.4" text-anchor="end" transform="rotate(45.04 444.55 958.76)">GrCBP60E</text>
<text class="lb" x="431.65" y="970.68" dy="0.4" text-anchor="end" transform="rotate(49.47 431.65 970.68)">GbCBP60E-D</text>
<text class="lb" x="417.87" y="981.57" dy="0.4" text-anchor="end" transform="rotate(53.9 417.87 981.57)">GhCBP60E-D</text>
<text class="lo" x="403.4" y="991.53" dy="0.4" text-anchor="end" transform="rotate(58.33 403.4 991.53)">AtCBP60C</text>
<text class="lo" x="388.09" y="1000.18" dy="0.4" text-anchor="end" transform="rotate(62.76 388.09 1000.18)">AtCBP60D</text>
<text class="lo" x="372.16" y="1007.61" dy="0.4" text-anchor="end" transform="rotate(67.19 372.16 1007.61)">AtCBP60B</text>
<text class="lb" x="355.64" y="1013.61" dy="0.4" text-anchor="end" transform="rotate(71.62 355.64 1013.61)">GaCBP60B</text>
<text class="lb" x="338.77" y="1018.5" dy="0.4" text-anchor="end" transform="rotate(76.05 338.77 1018.5)">GbCBP60B-A</text>
<text class="lb" x="321.58" y="1022.07" dy="0.4" text-anchor="end" transform="rotate(80.48 321.58 1022.07)">GhCBP60B-A</text>
<text class="lb" x="304.16" y="1024.3" dy="0.4" text-anchor="end" transform="rotate(84.91 304.16 1024.3)">GbCBP60B-D</text>
<text class="lb" x="286.62" y="1025.18" dy="0.4" text-anchor="end" transform="rotate(89.34 286.62 1025.18)">GhCBP60B-D</text>
<text class="lb" x="269.06" y="1024.71" dy="0.4" text-anchor="start" transform="rotate(273.77 269.06 1024.71)">GrCBP60B</text>
<text class="lb" x="251.59" y="1022.88" dy="0.4" text-anchor="start" transform="rotate(278.2 251.59 1022.88)">GaCBP60D</text>
<text class="lb" x="234.32" y="1019.7" dy="0.4" text-anchor="start" transform="rotate(282.63 234.32 1019.7)">GbCBP60D-A</text>
<text class="lb" x="217.34" y="1015.2" dy="0.4" text-anchor="start" transform="rotate(287.06 217.34 1015.2)">GhCBP60D-A</text>
<text class="lb" x="200.76" y="1009.4" dy="0.4" text-anchor="start" transform="rotate(291.49 200.76 1009.4)">GrCBP60D</text>
<text class="lb" x="184.68" y="1002.34" dy="0.4" text-anchor="start" transform="rotate(295.92 184.68 1002.34)">GbCBP60D-D</text>
<text class="lb" x="169.19" y="994.06" dy="0.4" text-anchor="start" transform="rotate(300.35 169.19 994.06)">GhCBP60D-D</text>
<text class="lb" x="154.39" y="984.6" dy="0.4" text-anchor="start" transform="rotate(304.78 154.39 984.6)">GbCBP60C-1D</text>
<text class="lb" x="140.36" y="974.03" dy="0.4" text-anchor="start" transform="rotate(309.21 140.36 974.03)">GhCBP60C-1D</text>
<text class="lb" x="127.19" y="962.41" dy="0.4" text-anchor="start" transform="rotate(313.64 127.19 962.41)">GaCBP60C-1</text>
<text class="lb" x="114.96" y="949.81" dy="0.4" text-anchor="start" transform="rotate(318.07 114.96 949.81)">GrCBP60C-1</text>
<text class="lb" x="103.74" y="936.29" dy="0.4" text-anchor="start" transform="rotate(322.51 103.74 936.29)">GbCBP60C-1A</text>
<text class="lb" x="93.59" y="921.96" dy="0.4" text-anchor="start" transform="rotate(326.94 93.59 921.96)">GhCBP60C-1A</text>
<text class="lb" x="84.59" y="906.88" dy="0.4" text-anchor="start" transform="rotate(331.37 84.59 906.88)">GaCBP60C-3</text>
<text class="lb" x="76.77" y="891.15" dy="0.4" text-anchor="start" transform="rotate(335.8 76.77 891.15)">GbCBP60C-3A</text>
<text class="lb" x="70.2" y="874.86" dy="0.4" text-anchor="start" transform="rotate(340.23 70.2 874.86)">GhCBP60C-3A</text>
<text class="lb" x="64.9" y="858.12" dy="0.4" text-anchor="start" transform="rotate(344.66 64.9 858.12)">GrCBP60C-3</text>
<text class="lb" x="60.91" y="841.01" dy="0.4" text-anchor="start" transform="rotate(349.09 60.91 841.01)">GbCBP60C-3D</text>
<text class="lb" x="58.25" y="823.65" dy="0.4" text-anchor="start" transform="rotate(353.52 58.25 823.65)">GhCBP60C-3D</text>
<text class="lb" x="56.95" y="806.13" dy="0.4" text-anchor="start" transform="rotate(357.95 56.95 806.13)">GhCBP60C-2A</text>
<text class="lb" x="57" y="788.57" dy="0.4" text-anchor="start" transform="rotate(362.38 57 788.57)">GaCBP60C-2</text>
<text class="lb" x="58.4" y="771.06" dy="0.4" text-anchor="start" transform="rotate(366.81 58.4 771.06)">GbCBP60C-2A</text>
<text class="lb" x="61.16" y="753.72" dy="0.4" text-anchor="start" transform="rotate(371.24 61.16 753.72)">GrCBP60C-2</text>
<text class="lb" x="65.24" y="736.64" dy="0.4" text-anchor="start" transform="rotate(375.67 65.24 736.64)">GhCBP60C-2D</text>
<text class="lb" x="70.64" y="719.92" dy="0.4" text-anchor="start" transform="rotate(380.1 70.64 719.92)">GbCBP60C-2D</text>
<text class="big" x="6.75" y="42">A</text>
<text class="big" x="7.5" y="565.9">B</text>
<text class="num" transform="translate(195.54 17.25) scale(0.82 1)" x="0" y="0">IV</text>
<text class="num" transform="translate(513.39 123.25) scale(0.85 1)" x="0" y="0">III</text>
<text class="num" transform="translate(519.87 400.75) scale(0.8 1)" x="0" y="0">II</text>
<text class="num" transform="translate(38.85 413.35) scale(1 1)" x="0" y="0">I</text>
<text class="num" transform="translate(114.07 578.85) scale(0.8 1)" x="0" y="0">IV</text>
<text class="num" transform="translate(392.59 563.25) scale(0.85 1)" x="0" y="0">III</text>
<text class="num" transform="translate(536.27 742.45) scale(0.8 1)" x="0" y="0">II</text>
<text class="num" transform="translate(143.65 1043.65) scale(1 1)" x="0" y="0">I</text>
</svg>
</body></html>
